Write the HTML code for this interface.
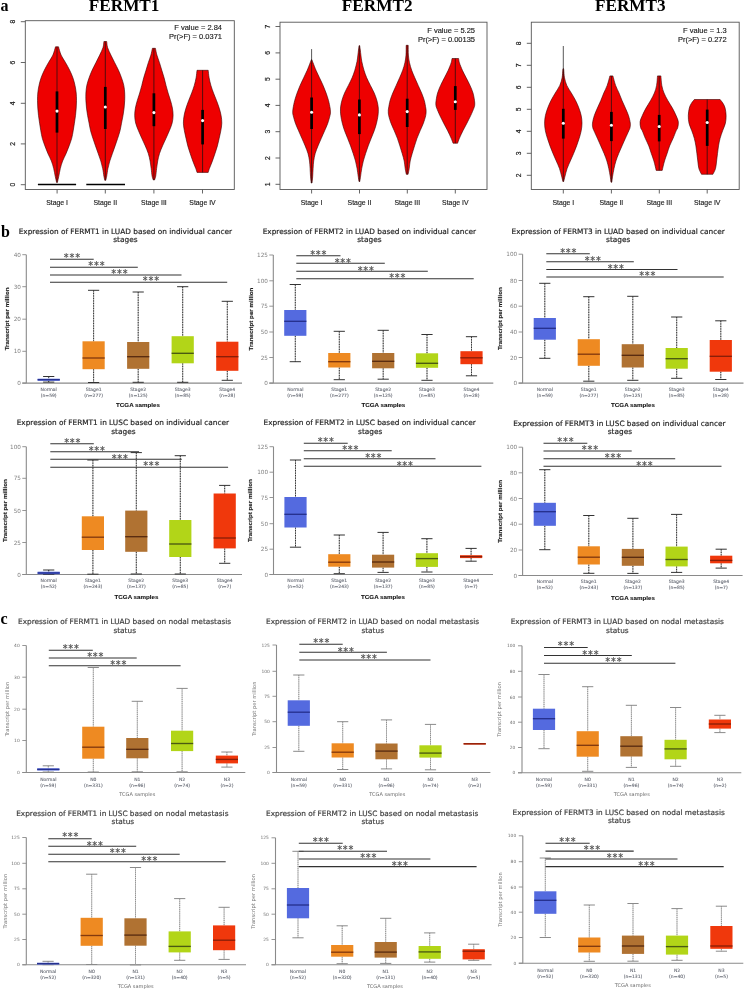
<!DOCTYPE html>
<html><head><meta charset="utf-8"><title>FERMT expression figure</title>
<style>
html,body{margin:0;padding:0;background:#fff;}
body{width:744px;height:991px;overflow:hidden;}
svg{display:block;}
text{font-kerning:normal;}
</style></head>
<body>
<svg width="744" height="991" viewBox="0 0 744 991">
<rect width="744" height="991" fill="#fff"/>
<rect x="25.3" y="20.7" width="209" height="168.8" fill="none" stroke="#555" stroke-width="0.9"/>
<line x1="20.8" y1="184.7" x2="25.3" y2="184.7" stroke="#555" stroke-width="0.9"/>
<text x="15.1" y="184.7" font-family="'Liberation Sans', sans-serif" font-size="6.8" font-weight="400" fill="#222" text-anchor="middle" transform="rotate(-90 15.1 184.7)" stroke="#222" stroke-width="0.2">0</text>
<line x1="20.8" y1="143.9" x2="25.3" y2="143.9" stroke="#555" stroke-width="0.9"/>
<text x="15.1" y="143.9" font-family="'Liberation Sans', sans-serif" font-size="6.8" font-weight="400" fill="#222" text-anchor="middle" transform="rotate(-90 15.1 143.9)" stroke="#222" stroke-width="0.2">2</text>
<line x1="20.8" y1="103.3" x2="25.3" y2="103.3" stroke="#555" stroke-width="0.9"/>
<text x="15.1" y="103.3" font-family="'Liberation Sans', sans-serif" font-size="6.8" font-weight="400" fill="#222" text-anchor="middle" transform="rotate(-90 15.1 103.3)" stroke="#222" stroke-width="0.2">4</text>
<line x1="20.8" y1="62.5" x2="25.3" y2="62.5" stroke="#555" stroke-width="0.9"/>
<text x="15.1" y="62.5" font-family="'Liberation Sans', sans-serif" font-size="6.8" font-weight="400" fill="#222" text-anchor="middle" transform="rotate(-90 15.1 62.5)" stroke="#222" stroke-width="0.2">6</text>
<line x1="20.8" y1="21.7" x2="25.3" y2="21.7" stroke="#555" stroke-width="0.9"/>
<text x="15.1" y="21.7" font-family="'Liberation Sans', sans-serif" font-size="6.8" font-weight="400" fill="#222" text-anchor="middle" transform="rotate(-90 15.1 21.7)" stroke="#222" stroke-width="0.2">8</text>
<line x1="57.1" y1="189.5" x2="57.1" y2="193.5" stroke="#555" stroke-width="0.9"/>
<text x="57.1" y="205.2" font-family="'Liberation Sans', sans-serif" font-size="6.9" font-weight="400" fill="#222" text-anchor="middle" stroke="#222" stroke-width="0.15">Stage I</text>
<line x1="105.3" y1="189.5" x2="105.3" y2="193.5" stroke="#555" stroke-width="0.9"/>
<text x="105.3" y="205.2" font-family="'Liberation Sans', sans-serif" font-size="6.9" font-weight="400" fill="#222" text-anchor="middle" stroke="#222" stroke-width="0.15">Stage II</text>
<line x1="153.9" y1="189.5" x2="153.9" y2="193.5" stroke="#555" stroke-width="0.9"/>
<text x="153.9" y="205.2" font-family="'Liberation Sans', sans-serif" font-size="6.9" font-weight="400" fill="#222" text-anchor="middle" stroke="#222" stroke-width="0.15">Stage III</text>
<line x1="202.5" y1="189.5" x2="202.5" y2="193.5" stroke="#555" stroke-width="0.9"/>
<text x="202.5" y="205.2" font-family="'Liberation Sans', sans-serif" font-size="6.9" font-weight="400" fill="#222" text-anchor="middle" stroke="#222" stroke-width="0.15">Stage IV</text>
<text x="222" y="29.7" font-family="'Liberation Sans', sans-serif" font-size="7.5" font-weight="400" fill="#222" text-anchor="end" stroke="#222" stroke-width="0.15">F value = 2.84</text>
<text x="222" y="38.7" font-family="'Liberation Sans', sans-serif" font-size="7.5" font-weight="400" fill="#222" text-anchor="end" stroke="#222" stroke-width="0.15">Pr(&gt;F) = 0.0371</text>
<text x="124.1" y="11.1" font-family="'Liberation Serif', serif" font-size="17.2" font-weight="700" fill="#000" text-anchor="middle">FERMT1</text>
<line x1="37.9" y1="184.5" x2="76.1" y2="184.5" stroke="#000" stroke-width="1.5"/>
<line x1="86.3" y1="184.5" x2="125" y2="184.5" stroke="#000" stroke-width="1.5"/>
<path d="M58.5,46.8 C58.93,48.18 59.92,52.45 61.1,55.1 C62.28,57.75 64.17,60.17 65.6,62.7 C67.03,65.23 68.48,67.78 69.7,70.3 C70.92,72.82 72.02,75.28 72.9,77.8 C73.78,80.32 74.45,82.87 75,85.4 C75.55,87.93 75.95,90.48 76.2,93 C76.45,95.52 76.5,97.98 76.5,100.5 C76.5,103.02 76.37,105.58 76.2,108.1 C76.03,110.62 75.8,113.08 75.5,115.6 C75.2,118.12 74.78,120.67 74.4,123.2 C74.02,125.73 73.65,128.28 73.2,130.8 C72.75,133.32 72.38,135.78 71.7,138.3 C71.02,140.82 70.03,143.37 69.1,145.9 C68.17,148.43 67.18,150.98 66.1,153.5 C65.02,156.02 63.57,158.48 62.6,161 C61.63,163.52 60.93,166.07 60.3,168.6 C59.67,171.13 59.28,173.9 58.8,176.2 C58.32,178.5 57.63,181.37 57.4,182.4 L56.6,182.4 C56.37,181.37 55.68,178.5 55.2,176.2 C54.72,173.9 54.33,171.13 53.7,168.6 C53.07,166.07 52.37,163.52 51.4,161 C50.43,158.48 48.98,156.02 47.9,153.5 C46.82,150.98 45.83,148.43 44.9,145.9 C43.97,143.37 42.98,140.82 42.3,138.3 C41.62,135.78 41.25,133.32 40.8,130.8 C40.35,128.28 39.98,125.73 39.6,123.2 C39.22,120.67 38.8,118.12 38.5,115.6 C38.2,113.08 37.97,110.62 37.8,108.1 C37.63,105.58 37.5,103.02 37.5,100.5 C37.5,97.98 37.55,95.52 37.8,93 C38.05,90.48 38.45,87.93 39,85.4 C39.55,82.87 40.22,80.32 41.1,77.8 C41.98,75.28 43.08,72.82 44.3,70.3 C45.52,67.78 46.97,65.23 48.4,62.7 C49.83,60.17 51.72,57.75 52.9,55.1 C54.08,52.45 55.07,48.18 55.5,46.8 Z" fill="#ee0000" stroke="#3a0000" stroke-width="0.6"/>
<line x1="57" y1="46.8" x2="57" y2="182.4" stroke="#111" stroke-width="0.7"/>
<rect x="55.65" y="91.4" width="2.7" height="41.2" fill="#000"/>
<circle cx="57" cy="111.1" r="1.55" fill="#fff"/>
<path d="M106.7,41.5 C106.85,42.52 106.9,45.33 107.6,47.6 C108.3,49.87 109.72,52.58 110.9,55.1 C112.08,57.62 113.43,60.17 114.7,62.7 C115.97,65.23 117.37,67.78 118.5,70.3 C119.63,72.82 120.62,75.28 121.5,77.8 C122.38,80.32 123.27,82.87 123.8,85.4 C124.33,87.93 124.55,90.48 124.7,93 C124.85,95.52 124.8,97.98 124.7,100.5 C124.6,103.02 124.38,105.58 124.1,108.1 C123.82,110.62 123.43,113.08 123,115.6 C122.57,118.12 122,120.67 121.5,123.2 C121,125.73 120.63,128.28 120,130.8 C119.37,133.32 118.52,135.78 117.7,138.3 C116.88,140.82 115.98,143.37 115.1,145.9 C114.22,148.43 113.28,150.98 112.4,153.5 C111.52,156.02 110.55,158.48 109.8,161 C109.05,163.52 108.42,166.07 107.9,168.6 C107.38,171.13 107.05,174.25 106.7,176.2 C106.35,178.15 105.95,179.62 105.8,180.3 L104.8,180.3 C104.65,179.62 104.25,178.15 103.9,176.2 C103.55,174.25 103.22,171.13 102.7,168.6 C102.18,166.07 101.55,163.52 100.8,161 C100.05,158.48 99.08,156.02 98.2,153.5 C97.32,150.98 96.38,148.43 95.5,145.9 C94.62,143.37 93.72,140.82 92.9,138.3 C92.08,135.78 91.23,133.32 90.6,130.8 C89.97,128.28 89.6,125.73 89.1,123.2 C88.6,120.67 88.03,118.12 87.6,115.6 C87.17,113.08 86.78,110.62 86.5,108.1 C86.22,105.58 86,103.02 85.9,100.5 C85.8,97.98 85.75,95.52 85.9,93 C86.05,90.48 86.27,87.93 86.8,85.4 C87.33,82.87 88.22,80.32 89.1,77.8 C89.98,75.28 90.97,72.82 92.1,70.3 C93.23,67.78 94.63,65.23 95.9,62.7 C97.17,60.17 98.52,57.62 99.7,55.1 C100.88,52.58 102.3,49.87 103,47.6 C103.7,45.33 103.75,42.52 103.9,41.5 Z" fill="#ee0000" stroke="#3a0000" stroke-width="0.6"/>
<line x1="105.3" y1="41.5" x2="105.3" y2="180.3" stroke="#111" stroke-width="0.7"/>
<rect x="103.95" y="86.9" width="2.7" height="42.1" fill="#000"/>
<circle cx="105.3" cy="107" r="1.55" fill="#fff"/>
<path d="M155.4,48.3 C155.65,49.43 156.22,52.7 156.9,55.1 C157.58,57.5 158.68,60.17 159.5,62.7 C160.32,65.23 161.03,67.78 161.8,70.3 C162.57,72.82 163.4,75.28 164.1,77.8 C164.8,80.32 165.33,82.87 166,85.4 C166.67,87.93 167.35,90.48 168.1,93 C168.85,95.52 169.78,97.98 170.5,100.5 C171.22,103.02 171.97,105.58 172.4,108.1 C172.83,110.62 173.15,113.08 173.1,115.6 C173.05,118.12 172.73,120.67 172.1,123.2 C171.47,125.73 170.32,128.28 169.3,130.8 C168.28,133.32 167.13,135.78 166,138.3 C164.87,140.82 163.58,143.37 162.5,145.9 C161.42,148.43 160.3,150.98 159.5,153.5 C158.7,156.02 158.18,158.48 157.7,161 C157.22,163.52 156.93,166.07 156.6,168.6 C156.27,171.13 156.05,174.3 155.7,176.2 C155.35,178.1 154.7,179.37 154.5,180 L153.3,180 C153.1,179.37 152.45,178.1 152.1,176.2 C151.75,174.3 151.53,171.13 151.2,168.6 C150.87,166.07 150.58,163.52 150.1,161 C149.62,158.48 149.1,156.02 148.3,153.5 C147.5,150.98 146.38,148.43 145.3,145.9 C144.22,143.37 142.93,140.82 141.8,138.3 C140.67,135.78 139.52,133.32 138.5,130.8 C137.48,128.28 136.33,125.73 135.7,123.2 C135.07,120.67 134.75,118.12 134.7,115.6 C134.65,113.08 134.97,110.62 135.4,108.1 C135.83,105.58 136.58,103.02 137.3,100.5 C138.02,97.98 138.95,95.52 139.7,93 C140.45,90.48 141.13,87.93 141.8,85.4 C142.47,82.87 143,80.32 143.7,77.8 C144.4,75.28 145.23,72.82 146,70.3 C146.77,67.78 147.48,65.23 148.3,62.7 C149.12,60.17 150.22,57.5 150.9,55.1 C151.58,52.7 152.15,49.43 152.4,48.3 Z" fill="#ee0000" stroke="#3a0000" stroke-width="0.6"/>
<line x1="153.9" y1="48.3" x2="153.9" y2="180" stroke="#111" stroke-width="0.7"/>
<rect x="152.55" y="93.3" width="2.7" height="32.9" fill="#000"/>
<circle cx="153.9" cy="112.6" r="1.55" fill="#fff"/>
<path d="M208.2,70.3 C208.35,71.55 208.65,75.28 209.1,77.8 C209.55,80.32 210.17,82.87 210.9,85.4 C211.63,87.93 212.57,90.48 213.5,93 C214.43,95.52 215.55,97.98 216.5,100.5 C217.45,103.02 218.43,105.58 219.2,108.1 C219.97,110.62 220.67,113.08 221.1,115.6 C221.53,118.12 221.85,120.67 221.8,123.2 C221.75,125.73 221.23,128.28 220.8,130.8 C220.37,133.32 219.77,135.78 219.2,138.3 C218.63,140.82 218.1,143.37 217.4,145.9 C216.7,148.43 215.83,150.98 215,153.5 C214.17,156.02 213.33,158.48 212.4,161 C211.47,163.52 210.1,166.7 209.4,168.6 C208.7,170.5 208.4,171.77 208.2,172.4 L197,172.4 C196.8,171.77 196.5,170.5 195.8,168.6 C195.1,166.7 193.73,163.52 192.8,161 C191.87,158.48 191.03,156.02 190.2,153.5 C189.37,150.98 188.5,148.43 187.8,145.9 C187.1,143.37 186.57,140.82 186,138.3 C185.43,135.78 184.83,133.32 184.4,130.8 C183.97,128.28 183.45,125.73 183.4,123.2 C183.35,120.67 183.67,118.12 184.1,115.6 C184.53,113.08 185.23,110.62 186,108.1 C186.77,105.58 187.75,103.02 188.7,100.5 C189.65,97.98 190.77,95.52 191.7,93 C192.63,90.48 193.57,87.93 194.3,85.4 C195.03,82.87 195.65,80.32 196.1,77.8 C196.55,75.28 196.85,71.55 197,70.3 Z" fill="#ee0000" stroke="#3a0000" stroke-width="0.6"/>
<line x1="202.6" y1="70.3" x2="202.6" y2="172.4" stroke="#111" stroke-width="0.7"/>
<rect x="201.25" y="109.9" width="2.7" height="34.5" fill="#000"/>
<circle cx="202.6" cy="120.6" r="1.55" fill="#fff"/>
<rect x="280" y="22.2" width="207" height="167.3" fill="none" stroke="#555" stroke-width="0.9"/>
<line x1="275.5" y1="184.3" x2="280" y2="184.3" stroke="#555" stroke-width="0.9"/>
<text x="269.8" y="184.3" font-family="'Liberation Sans', sans-serif" font-size="6.8" font-weight="400" fill="#222" text-anchor="middle" transform="rotate(-90 269.8 184.3)" stroke="#222" stroke-width="0.2">1</text>
<line x1="275.5" y1="158" x2="280" y2="158" stroke="#555" stroke-width="0.9"/>
<text x="269.8" y="158" font-family="'Liberation Sans', sans-serif" font-size="6.8" font-weight="400" fill="#222" text-anchor="middle" transform="rotate(-90 269.8 158)" stroke="#222" stroke-width="0.2">2</text>
<line x1="275.5" y1="131.7" x2="280" y2="131.7" stroke="#555" stroke-width="0.9"/>
<text x="269.8" y="131.7" font-family="'Liberation Sans', sans-serif" font-size="6.8" font-weight="400" fill="#222" text-anchor="middle" transform="rotate(-90 269.8 131.7)" stroke="#222" stroke-width="0.2">3</text>
<line x1="275.5" y1="105.4" x2="280" y2="105.4" stroke="#555" stroke-width="0.9"/>
<text x="269.8" y="105.4" font-family="'Liberation Sans', sans-serif" font-size="6.8" font-weight="400" fill="#222" text-anchor="middle" transform="rotate(-90 269.8 105.4)" stroke="#222" stroke-width="0.2">4</text>
<line x1="275.5" y1="79.2" x2="280" y2="79.2" stroke="#555" stroke-width="0.9"/>
<text x="269.8" y="79.2" font-family="'Liberation Sans', sans-serif" font-size="6.8" font-weight="400" fill="#222" text-anchor="middle" transform="rotate(-90 269.8 79.2)" stroke="#222" stroke-width="0.2">5</text>
<line x1="275.5" y1="52.9" x2="280" y2="52.9" stroke="#555" stroke-width="0.9"/>
<text x="269.8" y="52.9" font-family="'Liberation Sans', sans-serif" font-size="6.8" font-weight="400" fill="#222" text-anchor="middle" transform="rotate(-90 269.8 52.9)" stroke="#222" stroke-width="0.2">6</text>
<line x1="275.5" y1="26.5" x2="280" y2="26.5" stroke="#555" stroke-width="0.9"/>
<text x="269.8" y="26.5" font-family="'Liberation Sans', sans-serif" font-size="6.8" font-weight="400" fill="#222" text-anchor="middle" transform="rotate(-90 269.8 26.5)" stroke="#222" stroke-width="0.2">7</text>
<line x1="311.6" y1="189.5" x2="311.6" y2="193.5" stroke="#555" stroke-width="0.9"/>
<text x="311.6" y="205.2" font-family="'Liberation Sans', sans-serif" font-size="6.9" font-weight="400" fill="#222" text-anchor="middle" stroke="#222" stroke-width="0.15">Stage I</text>
<line x1="359.5" y1="189.5" x2="359.5" y2="193.5" stroke="#555" stroke-width="0.9"/>
<text x="359.5" y="205.2" font-family="'Liberation Sans', sans-serif" font-size="6.9" font-weight="400" fill="#222" text-anchor="middle" stroke="#222" stroke-width="0.15">Stage II</text>
<line x1="407.3" y1="189.5" x2="407.3" y2="193.5" stroke="#555" stroke-width="0.9"/>
<text x="407.3" y="205.2" font-family="'Liberation Sans', sans-serif" font-size="6.9" font-weight="400" fill="#222" text-anchor="middle" stroke="#222" stroke-width="0.15">Stage III</text>
<line x1="455.3" y1="189.5" x2="455.3" y2="193.5" stroke="#555" stroke-width="0.9"/>
<text x="455.3" y="205.2" font-family="'Liberation Sans', sans-serif" font-size="6.9" font-weight="400" fill="#222" text-anchor="middle" stroke="#222" stroke-width="0.15">Stage IV</text>
<text x="475" y="32.5" font-family="'Liberation Sans', sans-serif" font-size="7.5" font-weight="400" fill="#222" text-anchor="end" stroke="#222" stroke-width="0.15">F value = 5.25</text>
<text x="475" y="41.7" font-family="'Liberation Sans', sans-serif" font-size="7.5" font-weight="400" fill="#222" text-anchor="end" stroke="#222" stroke-width="0.15">Pr(&gt;F) = 0.00135</text>
<text x="377.2" y="11.1" font-family="'Liberation Serif', serif" font-size="17.2" font-weight="700" fill="#000" text-anchor="middle">FERMT2</text>
<path d="M311.9,59.7 C312.08,60.2 312.32,60.93 313,62.7 C313.68,64.47 314.92,67.78 316,70.3 C317.08,72.82 318.32,75.28 319.5,77.8 C320.68,80.32 322,82.87 323.1,85.4 C324.2,87.93 325.2,90.48 326.1,93 C327,95.52 327.83,97.98 328.5,100.5 C329.17,103.02 329.77,106.08 330.1,108.1 C330.43,110.12 330.52,111.35 330.5,112.6 C330.48,113.85 330.45,113.83 330,115.6 C329.55,117.37 328.7,120.67 327.8,123.2 C326.9,125.73 325.68,128.28 324.6,130.8 C323.52,133.32 322.4,135.78 321.3,138.3 C320.2,140.82 319.02,143.37 318,145.9 C316.98,148.43 315.92,150.98 315.2,153.5 C314.48,156.02 314.05,158.48 313.7,161 C313.35,163.52 313.27,166.07 313.1,168.6 C312.93,171.13 312.88,173.8 312.7,176.2 C312.52,178.6 312.12,181.87 312,183 L311.2,183 C311.08,181.87 310.68,178.6 310.5,176.2 C310.32,173.8 310.27,171.13 310.1,168.6 C309.93,166.07 309.85,163.52 309.5,161 C309.15,158.48 308.72,156.02 308,153.5 C307.28,150.98 306.22,148.43 305.2,145.9 C304.18,143.37 303,140.82 301.9,138.3 C300.8,135.78 299.68,133.32 298.6,130.8 C297.52,128.28 296.3,125.73 295.4,123.2 C294.5,120.67 293.65,117.37 293.2,115.6 C292.75,113.83 292.72,113.85 292.7,112.6 C292.68,111.35 292.77,110.12 293.1,108.1 C293.43,106.08 294.03,103.02 294.7,100.5 C295.37,97.98 296.2,95.52 297.1,93 C298,90.48 299,87.93 300.1,85.4 C301.2,82.87 302.52,80.32 303.7,77.8 C304.88,75.28 306.12,72.82 307.2,70.3 C308.28,67.78 309.52,64.47 310.2,62.7 C310.88,60.93 311.12,60.2 311.3,59.7 Z" fill="#ee0000" stroke="#3a0000" stroke-width="0.6"/>
<line x1="311.6" y1="49.1" x2="311.6" y2="183" stroke="#111" stroke-width="0.7"/>
<rect x="310.25" y="97.5" width="2.7" height="31.5" fill="#000"/>
<circle cx="311.6" cy="112.3" r="1.55" fill="#fff"/>
<path d="M359.7,45.6 C359.8,46.33 360.1,48.42 360.3,50 C360.5,51.58 360.65,53.18 360.9,55.1 C361.15,57.02 361.28,58.97 361.8,61.5 C362.32,64.03 363.18,67.58 364,70.3 C364.82,73.02 365.63,75.28 366.7,77.8 C367.77,80.32 369.15,82.87 370.4,85.4 C371.65,87.93 373.12,90.48 374.2,93 C375.28,95.52 376.22,97.98 376.9,100.5 C377.58,103.02 378.12,105.58 378.3,108.1 C378.48,110.62 378.3,113.08 378,115.6 C377.7,118.12 377.13,120.67 376.5,123.2 C375.87,125.73 375.08,128.28 374.2,130.8 C373.32,133.32 372.2,135.78 371.2,138.3 C370.2,140.82 369.13,143.37 368.2,145.9 C367.27,148.43 366.42,150.98 365.6,153.5 C364.78,156.02 363.95,158.48 363.3,161 C362.65,163.52 362.15,166.07 361.7,168.6 C361.25,171.13 360.92,174.05 360.6,176.2 C360.28,178.35 359.93,180.62 359.8,181.5 L359,181.5 C358.87,180.62 358.52,178.35 358.2,176.2 C357.88,174.05 357.55,171.13 357.1,168.6 C356.65,166.07 356.15,163.52 355.5,161 C354.85,158.48 354.02,156.02 353.2,153.5 C352.38,150.98 351.53,148.43 350.6,145.9 C349.67,143.37 348.6,140.82 347.6,138.3 C346.6,135.78 345.48,133.32 344.6,130.8 C343.72,128.28 342.93,125.73 342.3,123.2 C341.67,120.67 341.1,118.12 340.8,115.6 C340.5,113.08 340.32,110.62 340.5,108.1 C340.68,105.58 341.22,103.02 341.9,100.5 C342.58,97.98 343.52,95.52 344.6,93 C345.68,90.48 347.15,87.93 348.4,85.4 C349.65,82.87 351.03,80.32 352.1,77.8 C353.17,75.28 353.98,73.02 354.8,70.3 C355.62,67.58 356.48,64.03 357,61.5 C357.52,58.97 357.65,57.02 357.9,55.1 C358.15,53.18 358.3,51.58 358.5,50 C358.7,48.42 359,46.33 359.1,45.6 Z" fill="#ee0000" stroke="#3a0000" stroke-width="0.6"/>
<line x1="359.4" y1="46" x2="359.4" y2="181.5" stroke="#111" stroke-width="0.7"/>
<rect x="358.05" y="99.5" width="2.7" height="34.6" fill="#000"/>
<circle cx="359.4" cy="114.9" r="1.55" fill="#fff"/>
<path d="M408.2,45.3 C408.23,46.93 408.18,52.2 408.4,55.1 C408.62,58 408.95,60.17 409.5,62.7 C410.05,65.23 410.82,67.78 411.7,70.3 C412.58,72.82 413.72,75.28 414.8,77.8 C415.88,80.32 417.07,82.87 418.2,85.4 C419.33,87.93 420.58,90.48 421.6,93 C422.62,95.52 423.6,97.98 424.3,100.5 C425,103.02 425.5,106.33 425.8,108.1 C426.1,109.87 426.12,109.85 426.1,111.1 C426.08,112.35 426.15,113.58 425.7,115.6 C425.25,117.62 424.33,120.67 423.4,123.2 C422.47,125.73 421.17,128.28 420.1,130.8 C419.03,133.32 417.93,135.78 417,138.3 C416.07,140.82 415.3,143.37 414.5,145.9 C413.7,148.43 412.92,150.98 412.2,153.5 C411.48,156.02 410.7,158.48 410.2,161 C409.7,163.52 409.55,166.38 409.2,168.6 C408.85,170.82 408.28,173.35 408.1,174.3 L406.3,174.3 C406.12,173.35 405.55,170.82 405.2,168.6 C404.85,166.38 404.7,163.52 404.2,161 C403.7,158.48 402.92,156.02 402.2,153.5 C401.48,150.98 400.7,148.43 399.9,145.9 C399.1,143.37 398.33,140.82 397.4,138.3 C396.47,135.78 395.37,133.32 394.3,130.8 C393.23,128.28 391.93,125.73 391,123.2 C390.07,120.67 389.15,117.62 388.7,115.6 C388.25,113.58 388.32,112.35 388.3,111.1 C388.28,109.85 388.3,109.87 388.6,108.1 C388.9,106.33 389.4,103.02 390.1,100.5 C390.8,97.98 391.78,95.52 392.8,93 C393.82,90.48 395.07,87.93 396.2,85.4 C397.33,82.87 398.52,80.32 399.6,77.8 C400.68,75.28 401.82,72.82 402.7,70.3 C403.58,67.78 404.35,65.23 404.9,62.7 C405.45,60.17 405.78,58 406,55.1 C406.22,52.2 406.17,46.93 406.2,45.3 Z" fill="#ee0000" stroke="#3a0000" stroke-width="0.6"/>
<line x1="407.2" y1="45.3" x2="407.2" y2="174.3" stroke="#111" stroke-width="0.7"/>
<rect x="405.85" y="98.7" width="2.7" height="28.3" fill="#000"/>
<circle cx="407.2" cy="111.6" r="1.55" fill="#fff"/>
<path d="M458.6,58.5 C458.73,59.2 458.77,60.73 459.4,62.7 C460.03,64.67 461.27,67.78 462.4,70.3 C463.53,72.82 464.93,75.28 466.2,77.8 C467.47,80.32 468.87,82.87 470,85.4 C471.13,87.93 472.25,90.48 473,93 C473.75,95.52 474.22,98.5 474.5,100.5 C474.78,102.5 474.8,103.73 474.7,105 C474.6,106.27 474.57,106.33 473.9,108.1 C473.23,109.87 471.87,113.08 470.7,115.6 C469.53,118.12 468.2,120.67 466.9,123.2 C465.6,125.73 464.15,128.28 462.9,130.8 C461.65,133.32 460.28,136.23 459.4,138.3 C458.52,140.37 457.9,142.38 457.6,143.2 L453,143.2 C452.7,142.38 452.08,140.37 451.2,138.3 C450.32,136.23 448.95,133.32 447.7,130.8 C446.45,128.28 445,125.73 443.7,123.2 C442.4,120.67 441.07,118.12 439.9,115.6 C438.73,113.08 437.37,109.87 436.7,108.1 C436.03,106.33 436,106.27 435.9,105 C435.8,103.73 435.82,102.5 436.1,100.5 C436.38,98.5 436.85,95.52 437.6,93 C438.35,90.48 439.47,87.93 440.6,85.4 C441.73,82.87 443.13,80.32 444.4,77.8 C445.67,75.28 447.07,72.82 448.2,70.3 C449.33,67.78 450.57,64.67 451.2,62.7 C451.83,60.73 451.87,59.2 452,58.5 Z" fill="#ee0000" stroke="#3a0000" stroke-width="0.6"/>
<line x1="455.3" y1="58.5" x2="455.3" y2="143.2" stroke="#111" stroke-width="0.7"/>
<rect x="453.95" y="86.1" width="2.7" height="23.8" fill="#000"/>
<circle cx="455.3" cy="101.7" r="1.55" fill="#fff"/>
<rect x="531.3" y="22.2" width="207.9" height="167.3" fill="none" stroke="#555" stroke-width="0.9"/>
<line x1="526.8" y1="175.3" x2="531.3" y2="175.3" stroke="#555" stroke-width="0.9"/>
<text x="521.1" y="175.3" font-family="'Liberation Sans', sans-serif" font-size="6.8" font-weight="400" fill="#222" text-anchor="middle" transform="rotate(-90 521.1 175.3)" stroke="#222" stroke-width="0.2">2</text>
<line x1="526.8" y1="153.3" x2="531.3" y2="153.3" stroke="#555" stroke-width="0.9"/>
<text x="521.1" y="153.3" font-family="'Liberation Sans', sans-serif" font-size="6.8" font-weight="400" fill="#222" text-anchor="middle" transform="rotate(-90 521.1 153.3)" stroke="#222" stroke-width="0.2">3</text>
<line x1="526.8" y1="131.3" x2="531.3" y2="131.3" stroke="#555" stroke-width="0.9"/>
<text x="521.1" y="131.3" font-family="'Liberation Sans', sans-serif" font-size="6.8" font-weight="400" fill="#222" text-anchor="middle" transform="rotate(-90 521.1 131.3)" stroke="#222" stroke-width="0.2">4</text>
<line x1="526.8" y1="109.3" x2="531.3" y2="109.3" stroke="#555" stroke-width="0.9"/>
<text x="521.1" y="109.3" font-family="'Liberation Sans', sans-serif" font-size="6.8" font-weight="400" fill="#222" text-anchor="middle" transform="rotate(-90 521.1 109.3)" stroke="#222" stroke-width="0.2">5</text>
<line x1="526.8" y1="87.3" x2="531.3" y2="87.3" stroke="#555" stroke-width="0.9"/>
<text x="521.1" y="87.3" font-family="'Liberation Sans', sans-serif" font-size="6.8" font-weight="400" fill="#222" text-anchor="middle" transform="rotate(-90 521.1 87.3)" stroke="#222" stroke-width="0.2">6</text>
<line x1="526.8" y1="65.3" x2="531.3" y2="65.3" stroke="#555" stroke-width="0.9"/>
<text x="521.1" y="65.3" font-family="'Liberation Sans', sans-serif" font-size="6.8" font-weight="400" fill="#222" text-anchor="middle" transform="rotate(-90 521.1 65.3)" stroke="#222" stroke-width="0.2">7</text>
<line x1="526.8" y1="43.3" x2="531.3" y2="43.3" stroke="#555" stroke-width="0.9"/>
<text x="521.1" y="43.3" font-family="'Liberation Sans', sans-serif" font-size="6.8" font-weight="400" fill="#222" text-anchor="middle" transform="rotate(-90 521.1 43.3)" stroke="#222" stroke-width="0.2">8</text>
<line x1="563.3" y1="189.5" x2="563.3" y2="193.5" stroke="#555" stroke-width="0.9"/>
<text x="563.3" y="205.2" font-family="'Liberation Sans', sans-serif" font-size="6.9" font-weight="400" fill="#222" text-anchor="middle" stroke="#222" stroke-width="0.15">Stage I</text>
<line x1="611.4" y1="189.5" x2="611.4" y2="193.5" stroke="#555" stroke-width="0.9"/>
<text x="611.4" y="205.2" font-family="'Liberation Sans', sans-serif" font-size="6.9" font-weight="400" fill="#222" text-anchor="middle" stroke="#222" stroke-width="0.15">Stage II</text>
<line x1="659.3" y1="189.5" x2="659.3" y2="193.5" stroke="#555" stroke-width="0.9"/>
<text x="659.3" y="205.2" font-family="'Liberation Sans', sans-serif" font-size="6.9" font-weight="400" fill="#222" text-anchor="middle" stroke="#222" stroke-width="0.15">Stage III</text>
<line x1="707.2" y1="189.5" x2="707.2" y2="193.5" stroke="#555" stroke-width="0.9"/>
<text x="707.2" y="205.2" font-family="'Liberation Sans', sans-serif" font-size="6.9" font-weight="400" fill="#222" text-anchor="middle" stroke="#222" stroke-width="0.15">Stage IV</text>
<text x="726.7" y="32.5" font-family="'Liberation Sans', sans-serif" font-size="7.5" font-weight="400" fill="#222" text-anchor="end" stroke="#222" stroke-width="0.15">F value = 1.3</text>
<text x="726.7" y="42" font-family="'Liberation Sans', sans-serif" font-size="7.5" font-weight="400" fill="#222" text-anchor="end" stroke="#222" stroke-width="0.15">Pr(&gt;F) = 0.272</text>
<text x="630.3" y="11.1" font-family="'Liberation Serif', serif" font-size="17.2" font-weight="700" fill="#000" text-anchor="middle">FERMT3</text>
<path d="M563.6,68.7 C563.63,68.97 563.65,68.78 563.8,70.3 C563.95,71.82 564,75.28 564.5,77.8 C565,80.32 565.67,82.87 566.8,85.4 C567.93,87.93 569.83,90.48 571.3,93 C572.77,95.52 574.33,97.98 575.6,100.5 C576.87,103.02 577.97,105.58 578.9,108.1 C579.83,110.62 580.68,113.08 581.2,115.6 C581.72,118.12 582,120.67 582,123.2 C582,125.73 581.67,128.28 581.2,130.8 C580.73,133.32 579.97,135.78 579.2,138.3 C578.43,140.82 577.53,143.37 576.6,145.9 C575.67,148.43 574.65,150.98 573.6,153.5 C572.55,156.02 571.38,158.48 570.3,161 C569.22,163.52 567.98,166.07 567.1,168.6 C566.22,171.13 565.57,174.05 565,176.2 C564.43,178.35 563.92,180.62 563.7,181.5 L562.9,181.5 C562.68,180.62 562.17,178.35 561.6,176.2 C561.03,174.05 560.38,171.13 559.5,168.6 C558.62,166.07 557.38,163.52 556.3,161 C555.22,158.48 554.05,156.02 553,153.5 C551.95,150.98 550.93,148.43 550,145.9 C549.07,143.37 548.17,140.82 547.4,138.3 C546.63,135.78 545.87,133.32 545.4,130.8 C544.93,128.28 544.6,125.73 544.6,123.2 C544.6,120.67 544.88,118.12 545.4,115.6 C545.92,113.08 546.77,110.62 547.7,108.1 C548.63,105.58 549.73,103.02 551,100.5 C552.27,97.98 553.83,95.52 555.3,93 C556.77,90.48 558.67,87.93 559.8,85.4 C560.93,82.87 561.6,80.32 562.1,77.8 C562.6,75.28 562.65,71.82 562.8,70.3 C562.95,68.78 562.97,68.97 563,68.7 Z" fill="#ee0000" stroke="#3a0000" stroke-width="0.6"/>
<line x1="563.3" y1="46" x2="563.3" y2="181.5" stroke="#111" stroke-width="0.7"/>
<rect x="561.95" y="108.8" width="2.7" height="29.8" fill="#000"/>
<circle cx="563.3" cy="123.2" r="1.55" fill="#fff"/>
<path d="M612.9,75.9 C613.35,77.48 614.58,82.55 615.6,85.4 C616.62,88.25 617.93,90.48 619,93 C620.07,95.52 620.93,97.98 622,100.5 C623.07,103.02 624.32,105.58 625.4,108.1 C626.48,110.62 627.68,113.08 628.5,115.6 C629.32,118.12 630.05,121.18 630.3,123.2 C630.55,125.22 630.25,126.43 630,127.7 C629.75,128.97 629.57,129.03 628.8,130.8 C628.03,132.57 626.53,135.78 625.4,138.3 C624.27,140.82 623.12,143.37 622,145.9 C620.88,148.43 619.72,150.98 618.7,153.5 C617.68,156.02 616.68,158.48 615.9,161 C615.12,163.52 614.55,166.07 614,168.6 C613.45,171.13 612.97,173.93 612.6,176.2 C612.23,178.47 611.93,181.2 611.8,182.2 L611,182.2 C610.87,181.2 610.57,178.47 610.2,176.2 C609.83,173.93 609.35,171.13 608.8,168.6 C608.25,166.07 607.68,163.52 606.9,161 C606.12,158.48 605.12,156.02 604.1,153.5 C603.08,150.98 601.92,148.43 600.8,145.9 C599.68,143.37 598.53,140.82 597.4,138.3 C596.27,135.78 594.77,132.57 594,130.8 C593.23,129.03 593.05,128.97 592.8,127.7 C592.55,126.43 592.25,125.22 592.5,123.2 C592.75,121.18 593.48,118.12 594.3,115.6 C595.12,113.08 596.32,110.62 597.4,108.1 C598.48,105.58 599.73,103.02 600.8,100.5 C601.87,97.98 602.73,95.52 603.8,93 C604.87,90.48 606.18,88.25 607.2,85.4 C608.22,82.55 609.45,77.48 609.9,75.9 Z" fill="#ee0000" stroke="#3a0000" stroke-width="0.6"/>
<line x1="611.4" y1="75.9" x2="611.4" y2="182.2" stroke="#111" stroke-width="0.7"/>
<rect x="610.05" y="111.9" width="2.7" height="29.2" fill="#000"/>
<circle cx="611.4" cy="125.2" r="1.55" fill="#fff"/>
<path d="M660.9,75.9 C661.05,77.48 661.28,82.55 661.8,85.4 C662.32,88.25 663,90.48 664,93 C665,95.52 666.4,97.98 667.8,100.5 C669.2,103.02 671.02,105.58 672.4,108.1 C673.78,110.62 675.12,113.33 676.1,115.6 C677.08,117.87 678.03,119.68 678.3,121.7 C678.57,123.72 678.07,126.18 677.7,127.7 C677.33,129.22 676.87,129.03 676.1,130.8 C675.33,132.57 674.18,135.78 673.1,138.3 C672.02,140.82 670.6,143.37 669.6,145.9 C668.6,148.43 667.95,150.98 667.1,153.5 C666.25,156.02 665.32,158.18 664.5,161 C663.68,163.82 662.58,168.83 662.2,170.4 L656.2,170.4 C655.82,168.83 654.72,163.82 653.9,161 C653.08,158.18 652.15,156.02 651.3,153.5 C650.45,150.98 649.8,148.43 648.8,145.9 C647.8,143.37 646.38,140.82 645.3,138.3 C644.22,135.78 643.07,132.57 642.3,130.8 C641.53,129.03 641.07,129.22 640.7,127.7 C640.33,126.18 639.83,123.72 640.1,121.7 C640.37,119.68 641.32,117.87 642.3,115.6 C643.28,113.33 644.62,110.62 646,108.1 C647.38,105.58 649.2,103.02 650.6,100.5 C652,97.98 653.4,95.52 654.4,93 C655.4,90.48 656.08,88.25 656.6,85.4 C657.12,82.55 657.35,77.48 657.5,75.9 Z" fill="#ee0000" stroke="#3a0000" stroke-width="0.6"/>
<line x1="659.2" y1="75.9" x2="659.2" y2="170.4" stroke="#111" stroke-width="0.7"/>
<rect x="657.85" y="114.9" width="2.7" height="26.5" fill="#000"/>
<circle cx="659.2" cy="126.5" r="1.55" fill="#fff"/>
<path d="M720.1,99.5 C720.6,100.17 722.27,102.07 723.1,103.5 C723.93,104.93 724.6,106.08 725.1,108.1 C725.6,110.12 726.05,113.08 726.1,115.6 C726.15,118.12 725.98,120.67 725.4,123.2 C724.82,125.73 723.48,128.28 722.6,130.8 C721.72,133.32 720.78,135.78 720.1,138.3 C719.42,140.82 718.93,143.37 718.5,145.9 C718.07,148.43 717.82,150.98 717.5,153.5 C717.18,156.02 716.93,158.48 716.6,161 C716.27,163.52 716.12,166.38 715.5,168.6 C714.88,170.82 713.33,173.35 712.9,174.3 L701.5,174.3 C701.07,173.35 699.52,170.82 698.9,168.6 C698.28,166.38 698.13,163.52 697.8,161 C697.47,158.48 697.22,156.02 696.9,153.5 C696.58,150.98 696.33,148.43 695.9,145.9 C695.47,143.37 694.98,140.82 694.3,138.3 C693.62,135.78 692.68,133.32 691.8,130.8 C690.92,128.28 689.58,125.73 689,123.2 C688.42,120.67 688.25,118.12 688.3,115.6 C688.35,113.08 688.8,110.12 689.3,108.1 C689.8,106.08 690.47,104.93 691.3,103.5 C692.13,102.07 693.8,100.17 694.3,99.5 Z" fill="#ee0000" stroke="#3a0000" stroke-width="0.6"/>
<line x1="707.2" y1="99.5" x2="707.2" y2="174.3" stroke="#111" stroke-width="0.7"/>
<rect x="705.85" y="109.6" width="2.7" height="36.3" fill="#000"/>
<circle cx="707.2" cy="122.5" r="1.55" fill="#fff"/>
<text x="0.6" y="11.2" font-family="'Liberation Serif', serif" font-size="16" font-weight="700" fill="#000" text-anchor="start">a</text>
<text x="0.9" y="236.6" font-family="'Liberation Serif', serif" font-size="16" font-weight="700" fill="#000" text-anchor="start">b</text>
<text x="0.6" y="624.2" font-family="'Liberation Serif', serif" font-size="16" font-weight="700" fill="#000" text-anchor="start">c</text>
<text x="18.7" y="233.8" font-family="'DejaVu Sans', sans-serif" font-size="7.35" font-weight="400" fill="#1e1e1e" text-anchor="start" stroke="#1e1e1e" stroke-width="0.18">Expression of FERMT1 in LUAD based on individual cancer</text>
<text x="125.4" y="242.4" font-family="'DejaVu Sans', sans-serif" font-size="7.35" font-weight="400" fill="#1e1e1e" text-anchor="middle" stroke="#1e1e1e" stroke-width="0.18">stages</text>
<line x1="26.3" y1="254.7" x2="26.3" y2="383.1" stroke="#8a8a8a" stroke-width="1.1"/>
<line x1="22.3" y1="383.1" x2="242" y2="383.1" stroke="#8a8a8a" stroke-width="1.1"/>
<line x1="22.3" y1="254.7" x2="26.3" y2="254.7" stroke="#8a8a8a" stroke-width="0.9"/>
<text x="20.9" y="256.75" font-family="'DejaVu Sans', sans-serif" font-size="5.7" font-weight="400" fill="#808080" text-anchor="end">40</text>
<line x1="22.3" y1="286.7" x2="26.3" y2="286.7" stroke="#8a8a8a" stroke-width="0.9"/>
<text x="20.9" y="288.75" font-family="'DejaVu Sans', sans-serif" font-size="5.7" font-weight="400" fill="#808080" text-anchor="end">30</text>
<line x1="22.3" y1="319.2" x2="26.3" y2="319.2" stroke="#8a8a8a" stroke-width="0.9"/>
<text x="20.9" y="321.25" font-family="'DejaVu Sans', sans-serif" font-size="5.7" font-weight="400" fill="#808080" text-anchor="end">20</text>
<line x1="22.3" y1="351.3" x2="26.3" y2="351.3" stroke="#8a8a8a" stroke-width="0.9"/>
<text x="20.9" y="353.35" font-family="'DejaVu Sans', sans-serif" font-size="5.7" font-weight="400" fill="#808080" text-anchor="end">10</text>
<line x1="22.3" y1="383.1" x2="26.3" y2="383.1" stroke="#8a8a8a" stroke-width="0.9"/>
<text x="20.9" y="385.15" font-family="'DejaVu Sans', sans-serif" font-size="5.7" font-weight="400" fill="#808080" text-anchor="end">0</text>
<text x="9.3" y="318.9" font-family="'Liberation Sans', sans-serif" font-size="6.2" font-weight="700" fill="#1a1a1a" text-anchor="middle" transform="rotate(-90 9.3 318.9)" stroke="#1a1a1a" stroke-width="0.15">Transcript per million</text>
<line x1="48.7" y1="376.5" x2="48.7" y2="378.7" stroke="#aaa" stroke-width="0.9"/>
<line x1="48.7" y1="376.5" x2="48.7" y2="378.7" stroke="#222" stroke-width="0.9" stroke-dasharray="1.3,1.2"/>
<line x1="48.7" y1="380.8" x2="48.7" y2="382.1" stroke="#aaa" stroke-width="0.9"/>
<line x1="48.7" y1="380.8" x2="48.7" y2="382.1" stroke="#222" stroke-width="0.9" stroke-dasharray="1.3,1.2"/>
<line x1="43.1" y1="376.5" x2="54.3" y2="376.5" stroke="#333" stroke-width="1"/>
<line x1="43.1" y1="382.1" x2="54.3" y2="382.1" stroke="#333" stroke-width="1"/>
<rect x="37.6" y="378.7" width="22.2" height="2.1" fill="#546adf"/>
<line x1="37.6" y1="379.7" x2="59.8" y2="379.7" stroke="#26318f" stroke-width="1.35"/>
<line x1="93.6" y1="290.3" x2="93.6" y2="341.3" stroke="#aaa" stroke-width="0.9"/>
<line x1="93.6" y1="290.3" x2="93.6" y2="341.3" stroke="#222" stroke-width="0.9" stroke-dasharray="1.3,1.2"/>
<line x1="93.6" y1="369.2" x2="93.6" y2="382.5" stroke="#aaa" stroke-width="0.9"/>
<line x1="93.6" y1="369.2" x2="93.6" y2="382.5" stroke="#222" stroke-width="0.9" stroke-dasharray="1.3,1.2"/>
<line x1="88" y1="290.3" x2="99.2" y2="290.3" stroke="#333" stroke-width="1"/>
<line x1="88" y1="382.5" x2="99.2" y2="382.5" stroke="#333" stroke-width="1"/>
<rect x="82.5" y="341.3" width="22.2" height="27.9" fill="#ee8a22"/>
<line x1="82.5" y1="358" x2="104.7" y2="358" stroke="#843a0e" stroke-width="1.35"/>
<line x1="138.2" y1="292" x2="138.2" y2="342" stroke="#aaa" stroke-width="0.9"/>
<line x1="138.2" y1="292" x2="138.2" y2="342" stroke="#222" stroke-width="0.9" stroke-dasharray="1.3,1.2"/>
<line x1="138.2" y1="368.8" x2="138.2" y2="382.3" stroke="#aaa" stroke-width="0.9"/>
<line x1="138.2" y1="368.8" x2="138.2" y2="382.3" stroke="#222" stroke-width="0.9" stroke-dasharray="1.3,1.2"/>
<line x1="132.6" y1="292" x2="143.8" y2="292" stroke="#333" stroke-width="1"/>
<line x1="132.6" y1="382.3" x2="143.8" y2="382.3" stroke="#333" stroke-width="1"/>
<rect x="127.1" y="342" width="22.2" height="26.8" fill="#b07232"/>
<line x1="127.1" y1="356.7" x2="149.3" y2="356.7" stroke="#5a2c10" stroke-width="1.35"/>
<line x1="182.7" y1="286.7" x2="182.7" y2="336.2" stroke="#aaa" stroke-width="0.9"/>
<line x1="182.7" y1="286.7" x2="182.7" y2="336.2" stroke="#222" stroke-width="0.9" stroke-dasharray="1.3,1.2"/>
<line x1="182.7" y1="363.3" x2="182.7" y2="382.3" stroke="#aaa" stroke-width="0.9"/>
<line x1="182.7" y1="363.3" x2="182.7" y2="382.3" stroke="#222" stroke-width="0.9" stroke-dasharray="1.3,1.2"/>
<line x1="177.1" y1="286.7" x2="188.3" y2="286.7" stroke="#333" stroke-width="1"/>
<line x1="177.1" y1="382.3" x2="188.3" y2="382.3" stroke="#333" stroke-width="1"/>
<rect x="171.6" y="336.2" width="22.2" height="27.1" fill="#b2d518"/>
<line x1="171.6" y1="353.3" x2="193.8" y2="353.3" stroke="#4a5a12" stroke-width="1.35"/>
<line x1="227.3" y1="301.3" x2="227.3" y2="341.7" stroke="#aaa" stroke-width="0.9"/>
<line x1="227.3" y1="301.3" x2="227.3" y2="341.7" stroke="#222" stroke-width="0.9" stroke-dasharray="1.3,1.2"/>
<line x1="227.3" y1="370.8" x2="227.3" y2="380.3" stroke="#aaa" stroke-width="0.9"/>
<line x1="227.3" y1="370.8" x2="227.3" y2="380.3" stroke="#222" stroke-width="0.9" stroke-dasharray="1.3,1.2"/>
<line x1="221.7" y1="301.3" x2="232.9" y2="301.3" stroke="#333" stroke-width="1"/>
<line x1="221.7" y1="380.3" x2="232.9" y2="380.3" stroke="#333" stroke-width="1"/>
<rect x="216.2" y="341.7" width="22.2" height="29.1" fill="#f0380c"/>
<line x1="216.2" y1="356.7" x2="238.4" y2="356.7" stroke="#8a1e08" stroke-width="1.35"/>
<line x1="50" y1="259.2" x2="93.7" y2="259.2" stroke="#333" stroke-width="1.05"/>
<text transform="translate(72.4 254.9) scale(1 1.12)" x="0" y="5.4" font-family="DejaVu Sans, sans-serif" font-size="9.4" font-weight="700" fill="#5a5a5a" text-anchor="middle" letter-spacing="0.8">***</text>
<line x1="50" y1="267.2" x2="137.8" y2="267.2" stroke="#333" stroke-width="1.05"/>
<text transform="translate(96.9 263.4) scale(1 1.12)" x="0" y="5.4" font-family="DejaVu Sans, sans-serif" font-size="9.4" font-weight="700" fill="#5a5a5a" text-anchor="middle" letter-spacing="0.8">***</text>
<line x1="50" y1="275" x2="181.5" y2="275" stroke="#333" stroke-width="1.05"/>
<text transform="translate(119.9 271.2) scale(1 1.12)" x="0" y="5.4" font-family="DejaVu Sans, sans-serif" font-size="9.4" font-weight="700" fill="#5a5a5a" text-anchor="middle" letter-spacing="0.8">***</text>
<line x1="50" y1="282.2" x2="227.2" y2="282.2" stroke="#333" stroke-width="1.05"/>
<text transform="translate(151.4 278.4) scale(1 1.12)" x="0" y="5.4" font-family="DejaVu Sans, sans-serif" font-size="9.4" font-weight="700" fill="#5a5a5a" text-anchor="middle" letter-spacing="0.8">***</text>
<text x="48.7" y="391.2" font-family="'DejaVu Sans', sans-serif" font-size="4.5" font-weight="400" fill="#6a6e78" text-anchor="middle" stroke="#6a6e78" stroke-width="0.12">Normal</text>
<text x="48.7" y="396.9" font-family="'DejaVu Sans', sans-serif" font-size="4.5" font-weight="400" fill="#6a6e78" text-anchor="middle" stroke="#6a6e78" stroke-width="0.12">(n=59)</text>
<text x="93.6" y="391.2" font-family="'DejaVu Sans', sans-serif" font-size="4.5" font-weight="400" fill="#6a6e78" text-anchor="middle" stroke="#6a6e78" stroke-width="0.12">Stage1</text>
<text x="93.6" y="396.9" font-family="'DejaVu Sans', sans-serif" font-size="4.5" font-weight="400" fill="#6a6e78" text-anchor="middle" stroke="#6a6e78" stroke-width="0.12">(n=277)</text>
<text x="138.2" y="391.2" font-family="'DejaVu Sans', sans-serif" font-size="4.5" font-weight="400" fill="#6a6e78" text-anchor="middle" stroke="#6a6e78" stroke-width="0.12">Stage2</text>
<text x="138.2" y="396.9" font-family="'DejaVu Sans', sans-serif" font-size="4.5" font-weight="400" fill="#6a6e78" text-anchor="middle" stroke="#6a6e78" stroke-width="0.12">(n=125)</text>
<text x="182.7" y="391.2" font-family="'DejaVu Sans', sans-serif" font-size="4.5" font-weight="400" fill="#6a6e78" text-anchor="middle" stroke="#6a6e78" stroke-width="0.12">Stage3</text>
<text x="182.7" y="396.9" font-family="'DejaVu Sans', sans-serif" font-size="4.5" font-weight="400" fill="#6a6e78" text-anchor="middle" stroke="#6a6e78" stroke-width="0.12">(n=85)</text>
<text x="227.3" y="391.2" font-family="'DejaVu Sans', sans-serif" font-size="4.5" font-weight="400" fill="#6a6e78" text-anchor="middle" stroke="#6a6e78" stroke-width="0.12">Stage4</text>
<text x="227.3" y="396.9" font-family="'DejaVu Sans', sans-serif" font-size="4.5" font-weight="400" fill="#6a6e78" text-anchor="middle" stroke="#6a6e78" stroke-width="0.12">(n=28)</text>
<text x="138" y="407.4" font-family="'Liberation Sans', sans-serif" font-size="6.2" font-weight="700" fill="#111" text-anchor="middle" stroke="#111" stroke-width="0.1">TCGA samples</text>
<text x="262.7" y="233.8" font-family="'DejaVu Sans', sans-serif" font-size="7.35" font-weight="400" fill="#1e1e1e" text-anchor="start" stroke="#1e1e1e" stroke-width="0.18">Expression of FERMT2 in LUAD based on individual cancer</text>
<text x="369.4" y="242.4" font-family="'DejaVu Sans', sans-serif" font-size="7.35" font-weight="400" fill="#1e1e1e" text-anchor="middle" stroke="#1e1e1e" stroke-width="0.18">stages</text>
<line x1="273.3" y1="255" x2="273.3" y2="383.1" stroke="#8a8a8a" stroke-width="1.1"/>
<line x1="269.3" y1="383.1" x2="493.3" y2="383.1" stroke="#8a8a8a" stroke-width="1.1"/>
<line x1="269.3" y1="255" x2="273.3" y2="255" stroke="#8a8a8a" stroke-width="0.9"/>
<text x="267.9" y="257.05" font-family="'DejaVu Sans', sans-serif" font-size="5.7" font-weight="400" fill="#808080" text-anchor="end">125</text>
<line x1="269.3" y1="280.8" x2="273.3" y2="280.8" stroke="#8a8a8a" stroke-width="0.9"/>
<text x="267.9" y="282.85" font-family="'DejaVu Sans', sans-serif" font-size="5.7" font-weight="400" fill="#808080" text-anchor="end">100</text>
<line x1="269.3" y1="306.2" x2="273.3" y2="306.2" stroke="#8a8a8a" stroke-width="0.9"/>
<text x="267.9" y="308.25" font-family="'DejaVu Sans', sans-serif" font-size="5.7" font-weight="400" fill="#808080" text-anchor="end">75</text>
<line x1="269.3" y1="332" x2="273.3" y2="332" stroke="#8a8a8a" stroke-width="0.9"/>
<text x="267.9" y="334.05" font-family="'DejaVu Sans', sans-serif" font-size="5.7" font-weight="400" fill="#808080" text-anchor="end">50</text>
<line x1="269.3" y1="357.5" x2="273.3" y2="357.5" stroke="#8a8a8a" stroke-width="0.9"/>
<text x="267.9" y="359.55" font-family="'DejaVu Sans', sans-serif" font-size="5.7" font-weight="400" fill="#808080" text-anchor="end">25</text>
<line x1="269.3" y1="383.1" x2="273.3" y2="383.1" stroke="#8a8a8a" stroke-width="0.9"/>
<text x="267.9" y="385.15" font-family="'DejaVu Sans', sans-serif" font-size="5.7" font-weight="400" fill="#808080" text-anchor="end">0</text>
<text x="253.2" y="319.05" font-family="'Liberation Sans', sans-serif" font-size="6.2" font-weight="700" fill="#1a1a1a" text-anchor="middle" transform="rotate(-90 253.2 319.05)" stroke="#1a1a1a" stroke-width="0.15">Transcript per million</text>
<line x1="295.3" y1="284.5" x2="295.3" y2="310" stroke="#aaa" stroke-width="0.9"/>
<line x1="295.3" y1="284.5" x2="295.3" y2="310" stroke="#222" stroke-width="0.9" stroke-dasharray="1.3,1.2"/>
<line x1="295.3" y1="335.8" x2="295.3" y2="361.7" stroke="#aaa" stroke-width="0.9"/>
<line x1="295.3" y1="335.8" x2="295.3" y2="361.7" stroke="#222" stroke-width="0.9" stroke-dasharray="1.3,1.2"/>
<line x1="289.7" y1="284.5" x2="300.9" y2="284.5" stroke="#333" stroke-width="1"/>
<line x1="289.7" y1="361.7" x2="300.9" y2="361.7" stroke="#333" stroke-width="1"/>
<rect x="284.2" y="310" width="22.2" height="25.8" fill="#546adf"/>
<line x1="284.2" y1="321.3" x2="306.4" y2="321.3" stroke="#26318f" stroke-width="1.35"/>
<line x1="339.3" y1="331.3" x2="339.3" y2="353" stroke="#aaa" stroke-width="0.9"/>
<line x1="339.3" y1="331.3" x2="339.3" y2="353" stroke="#222" stroke-width="0.9" stroke-dasharray="1.3,1.2"/>
<line x1="339.3" y1="367.5" x2="339.3" y2="379.7" stroke="#aaa" stroke-width="0.9"/>
<line x1="339.3" y1="367.5" x2="339.3" y2="379.7" stroke="#222" stroke-width="0.9" stroke-dasharray="1.3,1.2"/>
<line x1="333.7" y1="331.3" x2="344.9" y2="331.3" stroke="#333" stroke-width="1"/>
<line x1="333.7" y1="379.7" x2="344.9" y2="379.7" stroke="#333" stroke-width="1"/>
<rect x="328.2" y="353" width="22.2" height="14.5" fill="#ee8a22"/>
<line x1="328.2" y1="361.7" x2="350.4" y2="361.7" stroke="#843a0e" stroke-width="1.35"/>
<line x1="383.2" y1="330.3" x2="383.2" y2="353" stroke="#aaa" stroke-width="0.9"/>
<line x1="383.2" y1="330.3" x2="383.2" y2="353" stroke="#222" stroke-width="0.9" stroke-dasharray="1.3,1.2"/>
<line x1="383.2" y1="368.3" x2="383.2" y2="379.2" stroke="#aaa" stroke-width="0.9"/>
<line x1="383.2" y1="368.3" x2="383.2" y2="379.2" stroke="#222" stroke-width="0.9" stroke-dasharray="1.3,1.2"/>
<line x1="377.6" y1="330.3" x2="388.8" y2="330.3" stroke="#333" stroke-width="1"/>
<line x1="377.6" y1="379.2" x2="388.8" y2="379.2" stroke="#333" stroke-width="1"/>
<rect x="372.1" y="353" width="22.2" height="15.3" fill="#b07232"/>
<line x1="372.1" y1="361.3" x2="394.3" y2="361.3" stroke="#5a2c10" stroke-width="1.35"/>
<line x1="427" y1="334.5" x2="427" y2="353.3" stroke="#aaa" stroke-width="0.9"/>
<line x1="427" y1="334.5" x2="427" y2="353.3" stroke="#222" stroke-width="0.9" stroke-dasharray="1.3,1.2"/>
<line x1="427" y1="367.8" x2="427" y2="380.3" stroke="#aaa" stroke-width="0.9"/>
<line x1="427" y1="367.8" x2="427" y2="380.3" stroke="#222" stroke-width="0.9" stroke-dasharray="1.3,1.2"/>
<line x1="421.4" y1="334.5" x2="432.6" y2="334.5" stroke="#333" stroke-width="1"/>
<line x1="421.4" y1="380.3" x2="432.6" y2="380.3" stroke="#333" stroke-width="1"/>
<rect x="415.9" y="353.3" width="22.2" height="14.5" fill="#b2d518"/>
<line x1="415.9" y1="363.3" x2="438.1" y2="363.3" stroke="#4a5a12" stroke-width="1.35"/>
<line x1="471.5" y1="336.7" x2="471.5" y2="351.2" stroke="#aaa" stroke-width="0.9"/>
<line x1="471.5" y1="336.7" x2="471.5" y2="351.2" stroke="#222" stroke-width="0.9" stroke-dasharray="1.3,1.2"/>
<line x1="471.5" y1="364.2" x2="471.5" y2="375.8" stroke="#aaa" stroke-width="0.9"/>
<line x1="471.5" y1="364.2" x2="471.5" y2="375.8" stroke="#222" stroke-width="0.9" stroke-dasharray="1.3,1.2"/>
<line x1="465.9" y1="336.7" x2="477.1" y2="336.7" stroke="#333" stroke-width="1"/>
<line x1="465.9" y1="375.8" x2="477.1" y2="375.8" stroke="#333" stroke-width="1"/>
<rect x="460.4" y="351.2" width="22.2" height="13" fill="#f0380c"/>
<line x1="460.4" y1="357.8" x2="482.6" y2="357.8" stroke="#8a1e08" stroke-width="1.35"/>
<line x1="296.3" y1="255.8" x2="340.5" y2="255.8" stroke="#333" stroke-width="1.05"/>
<text transform="translate(318.7 251.5) scale(1 1.12)" x="0" y="5.4" font-family="DejaVu Sans, sans-serif" font-size="9.4" font-weight="700" fill="#5a5a5a" text-anchor="middle" letter-spacing="0.8">***</text>
<line x1="296.3" y1="263.3" x2="384.8" y2="263.3" stroke="#333" stroke-width="1.05"/>
<text transform="translate(343.2 259.5) scale(1 1.12)" x="0" y="5.4" font-family="DejaVu Sans, sans-serif" font-size="9.4" font-weight="700" fill="#5a5a5a" text-anchor="middle" letter-spacing="0.8">***</text>
<line x1="296.3" y1="271.3" x2="427.8" y2="271.3" stroke="#333" stroke-width="1.05"/>
<text transform="translate(366.2 267.5) scale(1 1.12)" x="0" y="5.4" font-family="DejaVu Sans, sans-serif" font-size="9.4" font-weight="700" fill="#5a5a5a" text-anchor="middle" letter-spacing="0.8">***</text>
<line x1="296.3" y1="278.8" x2="473.7" y2="278.8" stroke="#333" stroke-width="1.05"/>
<text transform="translate(397.7 275) scale(1 1.12)" x="0" y="5.4" font-family="DejaVu Sans, sans-serif" font-size="9.4" font-weight="700" fill="#5a5a5a" text-anchor="middle" letter-spacing="0.8">***</text>
<text x="295.3" y="391.2" font-family="'DejaVu Sans', sans-serif" font-size="4.5" font-weight="400" fill="#6a6e78" text-anchor="middle" stroke="#6a6e78" stroke-width="0.12">Normal</text>
<text x="295.3" y="396.9" font-family="'DejaVu Sans', sans-serif" font-size="4.5" font-weight="400" fill="#6a6e78" text-anchor="middle" stroke="#6a6e78" stroke-width="0.12">(n=59)</text>
<text x="339.3" y="391.2" font-family="'DejaVu Sans', sans-serif" font-size="4.5" font-weight="400" fill="#6a6e78" text-anchor="middle" stroke="#6a6e78" stroke-width="0.12">Stage1</text>
<text x="339.3" y="396.9" font-family="'DejaVu Sans', sans-serif" font-size="4.5" font-weight="400" fill="#6a6e78" text-anchor="middle" stroke="#6a6e78" stroke-width="0.12">(n=277)</text>
<text x="383.2" y="391.2" font-family="'DejaVu Sans', sans-serif" font-size="4.5" font-weight="400" fill="#6a6e78" text-anchor="middle" stroke="#6a6e78" stroke-width="0.12">Stage2</text>
<text x="383.2" y="396.9" font-family="'DejaVu Sans', sans-serif" font-size="4.5" font-weight="400" fill="#6a6e78" text-anchor="middle" stroke="#6a6e78" stroke-width="0.12">(n=125)</text>
<text x="427" y="391.2" font-family="'DejaVu Sans', sans-serif" font-size="4.5" font-weight="400" fill="#6a6e78" text-anchor="middle" stroke="#6a6e78" stroke-width="0.12">Stage3</text>
<text x="427" y="396.9" font-family="'DejaVu Sans', sans-serif" font-size="4.5" font-weight="400" fill="#6a6e78" text-anchor="middle" stroke="#6a6e78" stroke-width="0.12">(n=85)</text>
<text x="471.5" y="391.2" font-family="'DejaVu Sans', sans-serif" font-size="4.5" font-weight="400" fill="#6a6e78" text-anchor="middle" stroke="#6a6e78" stroke-width="0.12">Stage4</text>
<text x="471.5" y="396.9" font-family="'DejaVu Sans', sans-serif" font-size="4.5" font-weight="400" fill="#6a6e78" text-anchor="middle" stroke="#6a6e78" stroke-width="0.12">(n=28)</text>
<text x="383.4" y="407.2" font-family="'Liberation Sans', sans-serif" font-size="6.2" font-weight="700" fill="#111" text-anchor="middle" stroke="#111" stroke-width="0.1">TCGA samples</text>
<text x="511.5" y="233.8" font-family="'DejaVu Sans', sans-serif" font-size="7.35" font-weight="400" fill="#1e1e1e" text-anchor="start" stroke="#1e1e1e" stroke-width="0.18">Expression of FERMT3 in LUAD based on individual cancer</text>
<text x="618.2" y="242.4" font-family="'DejaVu Sans', sans-serif" font-size="7.35" font-weight="400" fill="#1e1e1e" text-anchor="middle" stroke="#1e1e1e" stroke-width="0.18">stages</text>
<line x1="522.6" y1="254.2" x2="522.6" y2="383.1" stroke="#8a8a8a" stroke-width="1.1"/>
<line x1="518.6" y1="383.1" x2="743.5" y2="383.1" stroke="#8a8a8a" stroke-width="1.1"/>
<line x1="518.6" y1="254.2" x2="522.6" y2="254.2" stroke="#8a8a8a" stroke-width="0.9"/>
<text x="517.2" y="256.25" font-family="'DejaVu Sans', sans-serif" font-size="5.7" font-weight="400" fill="#808080" text-anchor="end">100</text>
<line x1="518.6" y1="280.5" x2="522.6" y2="280.5" stroke="#8a8a8a" stroke-width="0.9"/>
<text x="517.2" y="282.55" font-family="'DejaVu Sans', sans-serif" font-size="5.7" font-weight="400" fill="#808080" text-anchor="end">80</text>
<line x1="518.6" y1="306.2" x2="522.6" y2="306.2" stroke="#8a8a8a" stroke-width="0.9"/>
<text x="517.2" y="308.25" font-family="'DejaVu Sans', sans-serif" font-size="5.7" font-weight="400" fill="#808080" text-anchor="end">60</text>
<line x1="518.6" y1="332" x2="522.6" y2="332" stroke="#8a8a8a" stroke-width="0.9"/>
<text x="517.2" y="334.05" font-family="'DejaVu Sans', sans-serif" font-size="5.7" font-weight="400" fill="#808080" text-anchor="end">40</text>
<line x1="518.6" y1="357.5" x2="522.6" y2="357.5" stroke="#8a8a8a" stroke-width="0.9"/>
<text x="517.2" y="359.55" font-family="'DejaVu Sans', sans-serif" font-size="5.7" font-weight="400" fill="#808080" text-anchor="end">20</text>
<line x1="518.6" y1="383.1" x2="522.6" y2="383.1" stroke="#8a8a8a" stroke-width="0.9"/>
<text x="517.2" y="385.15" font-family="'DejaVu Sans', sans-serif" font-size="5.7" font-weight="400" fill="#808080" text-anchor="end">0</text>
<text x="501.9" y="318.65" font-family="'Liberation Sans', sans-serif" font-size="6.2" font-weight="700" fill="#1a1a1a" text-anchor="middle" transform="rotate(-90 501.9 318.65)" stroke="#1a1a1a" stroke-width="0.15">Transcript per million</text>
<line x1="544.8" y1="283.3" x2="544.8" y2="318" stroke="#aaa" stroke-width="0.9"/>
<line x1="544.8" y1="283.3" x2="544.8" y2="318" stroke="#222" stroke-width="0.9" stroke-dasharray="1.3,1.2"/>
<line x1="544.8" y1="339.7" x2="544.8" y2="358.3" stroke="#aaa" stroke-width="0.9"/>
<line x1="544.8" y1="339.7" x2="544.8" y2="358.3" stroke="#222" stroke-width="0.9" stroke-dasharray="1.3,1.2"/>
<line x1="539.2" y1="283.3" x2="550.4" y2="283.3" stroke="#333" stroke-width="1"/>
<line x1="539.2" y1="358.3" x2="550.4" y2="358.3" stroke="#333" stroke-width="1"/>
<rect x="533.7" y="318" width="22.2" height="21.7" fill="#546adf"/>
<line x1="533.7" y1="328.3" x2="555.9" y2="328.3" stroke="#26318f" stroke-width="1.35"/>
<line x1="588.8" y1="296.7" x2="588.8" y2="339.2" stroke="#aaa" stroke-width="0.9"/>
<line x1="588.8" y1="296.7" x2="588.8" y2="339.2" stroke="#222" stroke-width="0.9" stroke-dasharray="1.3,1.2"/>
<line x1="588.8" y1="365.8" x2="588.8" y2="381.2" stroke="#aaa" stroke-width="0.9"/>
<line x1="588.8" y1="365.8" x2="588.8" y2="381.2" stroke="#222" stroke-width="0.9" stroke-dasharray="1.3,1.2"/>
<line x1="583.2" y1="296.7" x2="594.4" y2="296.7" stroke="#333" stroke-width="1"/>
<line x1="583.2" y1="381.2" x2="594.4" y2="381.2" stroke="#333" stroke-width="1"/>
<rect x="577.7" y="339.2" width="22.2" height="26.6" fill="#ee8a22"/>
<line x1="577.7" y1="354.2" x2="599.9" y2="354.2" stroke="#843a0e" stroke-width="1.35"/>
<line x1="632.8" y1="296.3" x2="632.8" y2="344.2" stroke="#aaa" stroke-width="0.9"/>
<line x1="632.8" y1="296.3" x2="632.8" y2="344.2" stroke="#222" stroke-width="0.9" stroke-dasharray="1.3,1.2"/>
<line x1="632.8" y1="367.5" x2="632.8" y2="380.3" stroke="#aaa" stroke-width="0.9"/>
<line x1="632.8" y1="367.5" x2="632.8" y2="380.3" stroke="#222" stroke-width="0.9" stroke-dasharray="1.3,1.2"/>
<line x1="627.2" y1="296.3" x2="638.4" y2="296.3" stroke="#333" stroke-width="1"/>
<line x1="627.2" y1="380.3" x2="638.4" y2="380.3" stroke="#333" stroke-width="1"/>
<rect x="621.7" y="344.2" width="22.2" height="23.3" fill="#b07232"/>
<line x1="621.7" y1="355.3" x2="643.9" y2="355.3" stroke="#5a2c10" stroke-width="1.35"/>
<line x1="676.7" y1="317" x2="676.7" y2="348" stroke="#aaa" stroke-width="0.9"/>
<line x1="676.7" y1="317" x2="676.7" y2="348" stroke="#222" stroke-width="0.9" stroke-dasharray="1.3,1.2"/>
<line x1="676.7" y1="368.7" x2="676.7" y2="378.3" stroke="#aaa" stroke-width="0.9"/>
<line x1="676.7" y1="368.7" x2="676.7" y2="378.3" stroke="#222" stroke-width="0.9" stroke-dasharray="1.3,1.2"/>
<line x1="671.1" y1="317" x2="682.3" y2="317" stroke="#333" stroke-width="1"/>
<line x1="671.1" y1="378.3" x2="682.3" y2="378.3" stroke="#333" stroke-width="1"/>
<rect x="665.6" y="348" width="22.2" height="20.7" fill="#b2d518"/>
<line x1="665.6" y1="358.7" x2="687.8" y2="358.7" stroke="#4a5a12" stroke-width="1.35"/>
<line x1="720.8" y1="320.8" x2="720.8" y2="340" stroke="#aaa" stroke-width="0.9"/>
<line x1="720.8" y1="320.8" x2="720.8" y2="340" stroke="#222" stroke-width="0.9" stroke-dasharray="1.3,1.2"/>
<line x1="720.8" y1="371.7" x2="720.8" y2="379.5" stroke="#aaa" stroke-width="0.9"/>
<line x1="720.8" y1="371.7" x2="720.8" y2="379.5" stroke="#222" stroke-width="0.9" stroke-dasharray="1.3,1.2"/>
<line x1="715.2" y1="320.8" x2="726.4" y2="320.8" stroke="#333" stroke-width="1"/>
<line x1="715.2" y1="379.5" x2="726.4" y2="379.5" stroke="#333" stroke-width="1"/>
<rect x="709.7" y="340" width="22.2" height="31.7" fill="#f0380c"/>
<line x1="709.7" y1="356.3" x2="731.9" y2="356.3" stroke="#8a1e08" stroke-width="1.35"/>
<line x1="546.3" y1="253.8" x2="589.8" y2="253.8" stroke="#333" stroke-width="1.05"/>
<text transform="translate(568.7 249.5) scale(1 1.12)" x="0" y="5.4" font-family="DejaVu Sans, sans-serif" font-size="9.4" font-weight="700" fill="#5a5a5a" text-anchor="middle" letter-spacing="0.8">***</text>
<line x1="546.3" y1="261.7" x2="633.8" y2="261.7" stroke="#333" stroke-width="1.05"/>
<text transform="translate(593.2 257.9) scale(1 1.12)" x="0" y="5.4" font-family="DejaVu Sans, sans-serif" font-size="9.4" font-weight="700" fill="#5a5a5a" text-anchor="middle" letter-spacing="0.8">***</text>
<line x1="546.3" y1="269.5" x2="677.5" y2="269.5" stroke="#333" stroke-width="1.05"/>
<text transform="translate(616.2 265.7) scale(1 1.12)" x="0" y="5.4" font-family="DejaVu Sans, sans-serif" font-size="9.4" font-weight="700" fill="#5a5a5a" text-anchor="middle" letter-spacing="0.8">***</text>
<line x1="546.3" y1="277" x2="723.7" y2="277" stroke="#333" stroke-width="1.05"/>
<text transform="translate(647.7 273.2) scale(1 1.12)" x="0" y="5.4" font-family="DejaVu Sans, sans-serif" font-size="9.4" font-weight="700" fill="#5a5a5a" text-anchor="middle" letter-spacing="0.8">***</text>
<text x="544.8" y="391.2" font-family="'DejaVu Sans', sans-serif" font-size="4.5" font-weight="400" fill="#6a6e78" text-anchor="middle" stroke="#6a6e78" stroke-width="0.12">Normal</text>
<text x="544.8" y="396.9" font-family="'DejaVu Sans', sans-serif" font-size="4.5" font-weight="400" fill="#6a6e78" text-anchor="middle" stroke="#6a6e78" stroke-width="0.12">(n=59)</text>
<text x="588.8" y="391.2" font-family="'DejaVu Sans', sans-serif" font-size="4.5" font-weight="400" fill="#6a6e78" text-anchor="middle" stroke="#6a6e78" stroke-width="0.12">Stage1</text>
<text x="588.8" y="396.9" font-family="'DejaVu Sans', sans-serif" font-size="4.5" font-weight="400" fill="#6a6e78" text-anchor="middle" stroke="#6a6e78" stroke-width="0.12">(n=277)</text>
<text x="632.8" y="391.2" font-family="'DejaVu Sans', sans-serif" font-size="4.5" font-weight="400" fill="#6a6e78" text-anchor="middle" stroke="#6a6e78" stroke-width="0.12">Stage2</text>
<text x="632.8" y="396.9" font-family="'DejaVu Sans', sans-serif" font-size="4.5" font-weight="400" fill="#6a6e78" text-anchor="middle" stroke="#6a6e78" stroke-width="0.12">(n=125)</text>
<text x="676.7" y="391.2" font-family="'DejaVu Sans', sans-serif" font-size="4.5" font-weight="400" fill="#6a6e78" text-anchor="middle" stroke="#6a6e78" stroke-width="0.12">Stage3</text>
<text x="676.7" y="396.9" font-family="'DejaVu Sans', sans-serif" font-size="4.5" font-weight="400" fill="#6a6e78" text-anchor="middle" stroke="#6a6e78" stroke-width="0.12">(n=85)</text>
<text x="720.8" y="391.2" font-family="'DejaVu Sans', sans-serif" font-size="4.5" font-weight="400" fill="#6a6e78" text-anchor="middle" stroke="#6a6e78" stroke-width="0.12">Stage4</text>
<text x="720.8" y="396.9" font-family="'DejaVu Sans', sans-serif" font-size="4.5" font-weight="400" fill="#6a6e78" text-anchor="middle" stroke="#6a6e78" stroke-width="0.12">(n=28)</text>
<text x="633" y="407.2" font-family="'Liberation Sans', sans-serif" font-size="6.2" font-weight="700" fill="#111" text-anchor="middle" stroke="#111" stroke-width="0.1">TCGA samples</text>
<text x="16.7" y="425" font-family="'DejaVu Sans', sans-serif" font-size="7.35" font-weight="400" fill="#1e1e1e" text-anchor="start" stroke="#1e1e1e" stroke-width="0.18">Expression of FERMT1 in LUSC based on individual cancer</text>
<text x="123.4" y="433.6" font-family="'DejaVu Sans', sans-serif" font-size="7.35" font-weight="400" fill="#1e1e1e" text-anchor="middle" stroke="#1e1e1e" stroke-width="0.18">stages</text>
<line x1="26.3" y1="446.7" x2="26.3" y2="574.5" stroke="#8a8a8a" stroke-width="1.1"/>
<line x1="22.3" y1="574.5" x2="242" y2="574.5" stroke="#8a8a8a" stroke-width="1.1"/>
<line x1="22.3" y1="446.7" x2="26.3" y2="446.7" stroke="#8a8a8a" stroke-width="0.9"/>
<text x="20.9" y="448.75" font-family="'DejaVu Sans', sans-serif" font-size="5.7" font-weight="400" fill="#808080" text-anchor="end">100</text>
<line x1="22.3" y1="478.3" x2="26.3" y2="478.3" stroke="#8a8a8a" stroke-width="0.9"/>
<text x="20.9" y="480.35" font-family="'DejaVu Sans', sans-serif" font-size="5.7" font-weight="400" fill="#808080" text-anchor="end">75</text>
<line x1="22.3" y1="510.5" x2="26.3" y2="510.5" stroke="#8a8a8a" stroke-width="0.9"/>
<text x="20.9" y="512.55" font-family="'DejaVu Sans', sans-serif" font-size="5.7" font-weight="400" fill="#808080" text-anchor="end">50</text>
<line x1="22.3" y1="542.5" x2="26.3" y2="542.5" stroke="#8a8a8a" stroke-width="0.9"/>
<text x="20.9" y="544.55" font-family="'DejaVu Sans', sans-serif" font-size="5.7" font-weight="400" fill="#808080" text-anchor="end">25</text>
<line x1="22.3" y1="574.5" x2="26.3" y2="574.5" stroke="#8a8a8a" stroke-width="0.9"/>
<text x="20.9" y="576.55" font-family="'DejaVu Sans', sans-serif" font-size="5.7" font-weight="400" fill="#808080" text-anchor="end">0</text>
<text x="7.3" y="510.6" font-family="'Liberation Sans', sans-serif" font-size="6.2" font-weight="700" fill="#1a1a1a" text-anchor="middle" transform="rotate(-90 7.3 510.6)" stroke="#1a1a1a" stroke-width="0.15">Transcript per million</text>
<line x1="48.7" y1="570" x2="48.7" y2="571.7" stroke="#aaa" stroke-width="0.9"/>
<line x1="48.7" y1="570" x2="48.7" y2="571.7" stroke="#222" stroke-width="0.9" stroke-dasharray="1.3,1.2"/>
<line x1="48.7" y1="574.2" x2="48.7" y2="574.4" stroke="#aaa" stroke-width="0.9"/>
<line x1="48.7" y1="574.2" x2="48.7" y2="574.4" stroke="#222" stroke-width="0.9" stroke-dasharray="1.3,1.2"/>
<line x1="43.1" y1="570" x2="54.3" y2="570" stroke="#333" stroke-width="1"/>
<line x1="43.1" y1="574.4" x2="54.3" y2="574.4" stroke="#333" stroke-width="1"/>
<rect x="37.6" y="571.7" width="22.2" height="2.5" fill="#546adf"/>
<line x1="37.6" y1="573" x2="59.8" y2="573" stroke="#26318f" stroke-width="1.35"/>
<line x1="92.9" y1="460" x2="92.9" y2="516.3" stroke="#aaa" stroke-width="0.9"/>
<line x1="92.9" y1="460" x2="92.9" y2="516.3" stroke="#222" stroke-width="0.9" stroke-dasharray="1.3,1.2"/>
<line x1="92.9" y1="550" x2="92.9" y2="574.2" stroke="#aaa" stroke-width="0.9"/>
<line x1="92.9" y1="550" x2="92.9" y2="574.2" stroke="#222" stroke-width="0.9" stroke-dasharray="1.3,1.2"/>
<line x1="87.3" y1="460" x2="98.5" y2="460" stroke="#333" stroke-width="1"/>
<line x1="87.3" y1="574.2" x2="98.5" y2="574.2" stroke="#333" stroke-width="1"/>
<rect x="81.8" y="516.3" width="22.2" height="33.7" fill="#ee8a22"/>
<line x1="81.8" y1="537.2" x2="104" y2="537.2" stroke="#843a0e" stroke-width="1.35"/>
<line x1="136.3" y1="452.6" x2="136.3" y2="510.6" stroke="#aaa" stroke-width="0.9"/>
<line x1="136.3" y1="452.6" x2="136.3" y2="510.6" stroke="#222" stroke-width="0.9" stroke-dasharray="1.3,1.2"/>
<line x1="136.3" y1="551.8" x2="136.3" y2="574" stroke="#aaa" stroke-width="0.9"/>
<line x1="136.3" y1="551.8" x2="136.3" y2="574" stroke="#222" stroke-width="0.9" stroke-dasharray="1.3,1.2"/>
<line x1="130.7" y1="452.6" x2="141.9" y2="452.6" stroke="#333" stroke-width="1"/>
<line x1="130.7" y1="574" x2="141.9" y2="574" stroke="#333" stroke-width="1"/>
<rect x="125.2" y="510.6" width="22.2" height="41.2" fill="#b07232"/>
<line x1="125.2" y1="536.7" x2="147.4" y2="536.7" stroke="#5a2c10" stroke-width="1.35"/>
<line x1="180.3" y1="455.7" x2="180.3" y2="520" stroke="#aaa" stroke-width="0.9"/>
<line x1="180.3" y1="455.7" x2="180.3" y2="520" stroke="#222" stroke-width="0.9" stroke-dasharray="1.3,1.2"/>
<line x1="180.3" y1="557" x2="180.3" y2="574" stroke="#aaa" stroke-width="0.9"/>
<line x1="180.3" y1="557" x2="180.3" y2="574" stroke="#222" stroke-width="0.9" stroke-dasharray="1.3,1.2"/>
<line x1="174.7" y1="455.7" x2="185.9" y2="455.7" stroke="#333" stroke-width="1"/>
<line x1="174.7" y1="574" x2="185.9" y2="574" stroke="#333" stroke-width="1"/>
<rect x="169.2" y="520" width="22.2" height="37" fill="#b2d518"/>
<line x1="169.2" y1="544" x2="191.4" y2="544" stroke="#4a5a12" stroke-width="1.35"/>
<line x1="224.7" y1="485.4" x2="224.7" y2="493.5" stroke="#aaa" stroke-width="0.9"/>
<line x1="224.7" y1="485.4" x2="224.7" y2="493.5" stroke="#222" stroke-width="0.9" stroke-dasharray="1.3,1.2"/>
<line x1="224.7" y1="548.4" x2="224.7" y2="563.3" stroke="#aaa" stroke-width="0.9"/>
<line x1="224.7" y1="548.4" x2="224.7" y2="563.3" stroke="#222" stroke-width="0.9" stroke-dasharray="1.3,1.2"/>
<line x1="219.1" y1="485.4" x2="230.3" y2="485.4" stroke="#333" stroke-width="1"/>
<line x1="219.1" y1="563.3" x2="230.3" y2="563.3" stroke="#333" stroke-width="1"/>
<rect x="213.6" y="493.5" width="22.2" height="54.9" fill="#f0380c"/>
<line x1="213.6" y1="538" x2="235.8" y2="538" stroke="#8a1e08" stroke-width="1.35"/>
<line x1="50.3" y1="443.8" x2="93.8" y2="443.8" stroke="#333" stroke-width="1.05"/>
<text transform="translate(72.7 439.5) scale(1 1.12)" x="0" y="5.4" font-family="DejaVu Sans, sans-serif" font-size="9.4" font-weight="700" fill="#5a5a5a" text-anchor="middle" letter-spacing="0.8">***</text>
<line x1="50.3" y1="451.7" x2="139" y2="451.7" stroke="#333" stroke-width="1.05"/>
<text transform="translate(97.2 447.9) scale(1 1.12)" x="0" y="5.4" font-family="DejaVu Sans, sans-serif" font-size="9.4" font-weight="700" fill="#5a5a5a" text-anchor="middle" letter-spacing="0.8">***</text>
<line x1="50.3" y1="459.3" x2="181.8" y2="459.3" stroke="#333" stroke-width="1.05"/>
<text transform="translate(120.2 455.5) scale(1 1.12)" x="0" y="5.4" font-family="DejaVu Sans, sans-serif" font-size="9.4" font-weight="700" fill="#5a5a5a" text-anchor="middle" letter-spacing="0.8">***</text>
<line x1="50.3" y1="467.2" x2="228.1" y2="467.2" stroke="#333" stroke-width="1.05"/>
<text transform="translate(151.7 463.4) scale(1 1.12)" x="0" y="5.4" font-family="DejaVu Sans, sans-serif" font-size="9.4" font-weight="700" fill="#5a5a5a" text-anchor="middle" letter-spacing="0.8">***</text>
<text x="48.7" y="582.4" font-family="'DejaVu Sans', sans-serif" font-size="4.5" font-weight="400" fill="#6a6e78" text-anchor="middle" stroke="#6a6e78" stroke-width="0.12">Normal</text>
<text x="48.7" y="588.1" font-family="'DejaVu Sans', sans-serif" font-size="4.5" font-weight="400" fill="#6a6e78" text-anchor="middle" stroke="#6a6e78" stroke-width="0.12">(n=52)</text>
<text x="92.9" y="582.4" font-family="'DejaVu Sans', sans-serif" font-size="4.5" font-weight="400" fill="#6a6e78" text-anchor="middle" stroke="#6a6e78" stroke-width="0.12">Stage1</text>
<text x="92.9" y="588.1" font-family="'DejaVu Sans', sans-serif" font-size="4.5" font-weight="400" fill="#6a6e78" text-anchor="middle" stroke="#6a6e78" stroke-width="0.12">(n=243)</text>
<text x="136.3" y="582.4" font-family="'DejaVu Sans', sans-serif" font-size="4.5" font-weight="400" fill="#6a6e78" text-anchor="middle" stroke="#6a6e78" stroke-width="0.12">Stage2</text>
<text x="136.3" y="588.1" font-family="'DejaVu Sans', sans-serif" font-size="4.5" font-weight="400" fill="#6a6e78" text-anchor="middle" stroke="#6a6e78" stroke-width="0.12">(n=137)</text>
<text x="180.3" y="582.4" font-family="'DejaVu Sans', sans-serif" font-size="4.5" font-weight="400" fill="#6a6e78" text-anchor="middle" stroke="#6a6e78" stroke-width="0.12">Stage3</text>
<text x="180.3" y="588.1" font-family="'DejaVu Sans', sans-serif" font-size="4.5" font-weight="400" fill="#6a6e78" text-anchor="middle" stroke="#6a6e78" stroke-width="0.12">(n=85)</text>
<text x="224.7" y="582.4" font-family="'DejaVu Sans', sans-serif" font-size="4.5" font-weight="400" fill="#6a6e78" text-anchor="middle" stroke="#6a6e78" stroke-width="0.12">Stage4</text>
<text x="224.7" y="588.1" font-family="'DejaVu Sans', sans-serif" font-size="4.5" font-weight="400" fill="#6a6e78" text-anchor="middle" stroke="#6a6e78" stroke-width="0.12">(n=7)</text>
<text x="136.5" y="599" font-family="'Liberation Sans', sans-serif" font-size="6.2" font-weight="700" fill="#111" text-anchor="middle" stroke="#111" stroke-width="0.1">TCGA samples</text>
<text x="263.5" y="425" font-family="'DejaVu Sans', sans-serif" font-size="7.35" font-weight="400" fill="#1e1e1e" text-anchor="start" stroke="#1e1e1e" stroke-width="0.18">Expression of FERMT2 in LUSC based on individual cancer</text>
<text x="370.2" y="433.6" font-family="'DejaVu Sans', sans-serif" font-size="7.35" font-weight="400" fill="#1e1e1e" text-anchor="middle" stroke="#1e1e1e" stroke-width="0.18">stages</text>
<line x1="273.5" y1="446.7" x2="273.5" y2="574.5" stroke="#8a8a8a" stroke-width="1.1"/>
<line x1="269.5" y1="574.5" x2="493" y2="574.5" stroke="#8a8a8a" stroke-width="1.1"/>
<line x1="269.5" y1="446.7" x2="273.5" y2="446.7" stroke="#8a8a8a" stroke-width="0.9"/>
<text x="268.1" y="448.75" font-family="'DejaVu Sans', sans-serif" font-size="5.7" font-weight="400" fill="#808080" text-anchor="end">125</text>
<line x1="269.5" y1="472.2" x2="273.5" y2="472.2" stroke="#8a8a8a" stroke-width="0.9"/>
<text x="268.1" y="474.25" font-family="'DejaVu Sans', sans-serif" font-size="5.7" font-weight="400" fill="#808080" text-anchor="end">100</text>
<line x1="269.5" y1="497.5" x2="273.5" y2="497.5" stroke="#8a8a8a" stroke-width="0.9"/>
<text x="268.1" y="499.55" font-family="'DejaVu Sans', sans-serif" font-size="5.7" font-weight="400" fill="#808080" text-anchor="end">75</text>
<line x1="269.5" y1="523.7" x2="273.5" y2="523.7" stroke="#8a8a8a" stroke-width="0.9"/>
<text x="268.1" y="525.75" font-family="'DejaVu Sans', sans-serif" font-size="5.7" font-weight="400" fill="#808080" text-anchor="end">50</text>
<line x1="269.5" y1="549.2" x2="273.5" y2="549.2" stroke="#8a8a8a" stroke-width="0.9"/>
<text x="268.1" y="551.25" font-family="'DejaVu Sans', sans-serif" font-size="5.7" font-weight="400" fill="#808080" text-anchor="end">25</text>
<line x1="269.5" y1="574.5" x2="273.5" y2="574.5" stroke="#8a8a8a" stroke-width="0.9"/>
<text x="268.1" y="576.55" font-family="'DejaVu Sans', sans-serif" font-size="5.7" font-weight="400" fill="#808080" text-anchor="end">0</text>
<text x="252.5" y="510.6" font-family="'Liberation Sans', sans-serif" font-size="6.2" font-weight="700" fill="#1a1a1a" text-anchor="middle" transform="rotate(-90 252.5 510.6)" stroke="#1a1a1a" stroke-width="0.15">Transcript per million</text>
<line x1="295.5" y1="460" x2="295.5" y2="497" stroke="#aaa" stroke-width="0.9"/>
<line x1="295.5" y1="460" x2="295.5" y2="497" stroke="#222" stroke-width="0.9" stroke-dasharray="1.3,1.2"/>
<line x1="295.5" y1="527.5" x2="295.5" y2="547.2" stroke="#aaa" stroke-width="0.9"/>
<line x1="295.5" y1="527.5" x2="295.5" y2="547.2" stroke="#222" stroke-width="0.9" stroke-dasharray="1.3,1.2"/>
<line x1="289.9" y1="460" x2="301.1" y2="460" stroke="#333" stroke-width="1"/>
<line x1="289.9" y1="547.2" x2="301.1" y2="547.2" stroke="#333" stroke-width="1"/>
<rect x="284.4" y="497" width="22.2" height="30.5" fill="#546adf"/>
<line x1="284.4" y1="514.3" x2="306.6" y2="514.3" stroke="#26318f" stroke-width="1.35"/>
<line x1="339.3" y1="535" x2="339.3" y2="554.2" stroke="#aaa" stroke-width="0.9"/>
<line x1="339.3" y1="535" x2="339.3" y2="554.2" stroke="#222" stroke-width="0.9" stroke-dasharray="1.3,1.2"/>
<line x1="339.3" y1="566.7" x2="339.3" y2="573.7" stroke="#aaa" stroke-width="0.9"/>
<line x1="339.3" y1="566.7" x2="339.3" y2="573.7" stroke="#222" stroke-width="0.9" stroke-dasharray="1.3,1.2"/>
<line x1="333.7" y1="535" x2="344.9" y2="535" stroke="#333" stroke-width="1"/>
<line x1="333.7" y1="573.7" x2="344.9" y2="573.7" stroke="#333" stroke-width="1"/>
<rect x="328.2" y="554.2" width="22.2" height="12.5" fill="#ee8a22"/>
<line x1="328.2" y1="562.2" x2="350.4" y2="562.2" stroke="#843a0e" stroke-width="1.35"/>
<line x1="383.1" y1="532.4" x2="383.1" y2="554.7" stroke="#aaa" stroke-width="0.9"/>
<line x1="383.1" y1="532.4" x2="383.1" y2="554.7" stroke="#222" stroke-width="0.9" stroke-dasharray="1.3,1.2"/>
<line x1="383.1" y1="567.6" x2="383.1" y2="572.4" stroke="#aaa" stroke-width="0.9"/>
<line x1="383.1" y1="567.6" x2="383.1" y2="572.4" stroke="#222" stroke-width="0.9" stroke-dasharray="1.3,1.2"/>
<line x1="377.5" y1="532.4" x2="388.7" y2="532.4" stroke="#333" stroke-width="1"/>
<line x1="377.5" y1="572.4" x2="388.7" y2="572.4" stroke="#333" stroke-width="1"/>
<rect x="372" y="554.7" width="22.2" height="12.9" fill="#b07232"/>
<line x1="372" y1="562" x2="394.2" y2="562" stroke="#5a2c10" stroke-width="1.35"/>
<line x1="426.9" y1="538.7" x2="426.9" y2="553.2" stroke="#aaa" stroke-width="0.9"/>
<line x1="426.9" y1="538.7" x2="426.9" y2="553.2" stroke="#222" stroke-width="0.9" stroke-dasharray="1.3,1.2"/>
<line x1="426.9" y1="566.9" x2="426.9" y2="572" stroke="#aaa" stroke-width="0.9"/>
<line x1="426.9" y1="566.9" x2="426.9" y2="572" stroke="#222" stroke-width="0.9" stroke-dasharray="1.3,1.2"/>
<line x1="421.3" y1="538.7" x2="432.5" y2="538.7" stroke="#333" stroke-width="1"/>
<line x1="421.3" y1="572" x2="432.5" y2="572" stroke="#333" stroke-width="1"/>
<rect x="415.8" y="553.2" width="22.2" height="13.7" fill="#b2d518"/>
<line x1="415.8" y1="558.6" x2="438" y2="558.6" stroke="#4a5a12" stroke-width="1.35"/>
<line x1="471.1" y1="548.4" x2="471.1" y2="555.2" stroke="#aaa" stroke-width="0.9"/>
<line x1="471.1" y1="548.4" x2="471.1" y2="555.2" stroke="#222" stroke-width="0.9" stroke-dasharray="1.3,1.2"/>
<line x1="471.1" y1="558.1" x2="471.1" y2="561.2" stroke="#aaa" stroke-width="0.9"/>
<line x1="471.1" y1="558.1" x2="471.1" y2="561.2" stroke="#222" stroke-width="0.9" stroke-dasharray="1.3,1.2"/>
<line x1="465.5" y1="548.4" x2="476.7" y2="548.4" stroke="#333" stroke-width="1"/>
<line x1="465.5" y1="561.2" x2="476.7" y2="561.2" stroke="#333" stroke-width="1"/>
<rect x="460" y="555.2" width="22.2" height="2.9" fill="#f0380c"/>
<line x1="460" y1="556.6" x2="482.2" y2="556.6" stroke="#8a1e08" stroke-width="1.35"/>
<line x1="303.8" y1="443.3" x2="347.7" y2="443.3" stroke="#333" stroke-width="1.05"/>
<text transform="translate(326.2 439) scale(1 1.12)" x="0" y="5.4" font-family="DejaVu Sans, sans-serif" font-size="9.4" font-weight="700" fill="#5a5a5a" text-anchor="middle" letter-spacing="0.8">***</text>
<line x1="303.8" y1="450.8" x2="391.7" y2="450.8" stroke="#333" stroke-width="1.05"/>
<text transform="translate(350.7 447) scale(1 1.12)" x="0" y="5.4" font-family="DejaVu Sans, sans-serif" font-size="9.4" font-weight="700" fill="#5a5a5a" text-anchor="middle" letter-spacing="0.8">***</text>
<line x1="303.8" y1="458.7" x2="435.5" y2="458.7" stroke="#333" stroke-width="1.05"/>
<text transform="translate(373.7 454.9) scale(1 1.12)" x="0" y="5.4" font-family="DejaVu Sans, sans-serif" font-size="9.4" font-weight="700" fill="#5a5a5a" text-anchor="middle" letter-spacing="0.8">***</text>
<line x1="303.8" y1="466.3" x2="481.4" y2="466.3" stroke="#333" stroke-width="1.05"/>
<text transform="translate(405.2 462.5) scale(1 1.12)" x="0" y="5.4" font-family="DejaVu Sans, sans-serif" font-size="9.4" font-weight="700" fill="#5a5a5a" text-anchor="middle" letter-spacing="0.8">***</text>
<text x="295.5" y="582.4" font-family="'DejaVu Sans', sans-serif" font-size="4.5" font-weight="400" fill="#6a6e78" text-anchor="middle" stroke="#6a6e78" stroke-width="0.12">Normal</text>
<text x="295.5" y="588.1" font-family="'DejaVu Sans', sans-serif" font-size="4.5" font-weight="400" fill="#6a6e78" text-anchor="middle" stroke="#6a6e78" stroke-width="0.12">(n=52)</text>
<text x="339.3" y="582.4" font-family="'DejaVu Sans', sans-serif" font-size="4.5" font-weight="400" fill="#6a6e78" text-anchor="middle" stroke="#6a6e78" stroke-width="0.12">Stage1</text>
<text x="339.3" y="588.1" font-family="'DejaVu Sans', sans-serif" font-size="4.5" font-weight="400" fill="#6a6e78" text-anchor="middle" stroke="#6a6e78" stroke-width="0.12">(n=243)</text>
<text x="383.1" y="582.4" font-family="'DejaVu Sans', sans-serif" font-size="4.5" font-weight="400" fill="#6a6e78" text-anchor="middle" stroke="#6a6e78" stroke-width="0.12">Stage2</text>
<text x="383.1" y="588.1" font-family="'DejaVu Sans', sans-serif" font-size="4.5" font-weight="400" fill="#6a6e78" text-anchor="middle" stroke="#6a6e78" stroke-width="0.12">(n=137)</text>
<text x="426.9" y="582.4" font-family="'DejaVu Sans', sans-serif" font-size="4.5" font-weight="400" fill="#6a6e78" text-anchor="middle" stroke="#6a6e78" stroke-width="0.12">Stage3</text>
<text x="426.9" y="588.1" font-family="'DejaVu Sans', sans-serif" font-size="4.5" font-weight="400" fill="#6a6e78" text-anchor="middle" stroke="#6a6e78" stroke-width="0.12">(n=85)</text>
<text x="471.1" y="582.4" font-family="'DejaVu Sans', sans-serif" font-size="4.5" font-weight="400" fill="#6a6e78" text-anchor="middle" stroke="#6a6e78" stroke-width="0.12">Stage4</text>
<text x="471.1" y="588.1" font-family="'DejaVu Sans', sans-serif" font-size="4.5" font-weight="400" fill="#6a6e78" text-anchor="middle" stroke="#6a6e78" stroke-width="0.12">(n=7)</text>
<text x="383" y="599" font-family="'Liberation Sans', sans-serif" font-size="6.2" font-weight="700" fill="#111" text-anchor="middle" stroke="#111" stroke-width="0.1">TCGA samples</text>
<text x="513.2" y="425.5" font-family="'DejaVu Sans', sans-serif" font-size="7.35" font-weight="400" fill="#1e1e1e" text-anchor="start" stroke="#1e1e1e" stroke-width="0.18">Expression of FERMT3 in LUSC based on individual cancer</text>
<text x="619.9" y="434.1" font-family="'DejaVu Sans', sans-serif" font-size="7.35" font-weight="400" fill="#1e1e1e" text-anchor="middle" stroke="#1e1e1e" stroke-width="0.18">stages</text>
<line x1="522.6" y1="447.2" x2="522.6" y2="575.5" stroke="#8a8a8a" stroke-width="1.1"/>
<line x1="518.6" y1="575.5" x2="742.6" y2="575.5" stroke="#8a8a8a" stroke-width="1.1"/>
<line x1="518.6" y1="447.2" x2="522.6" y2="447.2" stroke="#8a8a8a" stroke-width="0.9"/>
<text x="517.2" y="449.25" font-family="'DejaVu Sans', sans-serif" font-size="5.7" font-weight="400" fill="#808080" text-anchor="end">100</text>
<line x1="518.6" y1="472.8" x2="522.6" y2="472.8" stroke="#8a8a8a" stroke-width="0.9"/>
<text x="517.2" y="474.85" font-family="'DejaVu Sans', sans-serif" font-size="5.7" font-weight="400" fill="#808080" text-anchor="end">80</text>
<line x1="518.6" y1="498.5" x2="522.6" y2="498.5" stroke="#8a8a8a" stroke-width="0.9"/>
<text x="517.2" y="500.55" font-family="'DejaVu Sans', sans-serif" font-size="5.7" font-weight="400" fill="#808080" text-anchor="end">60</text>
<line x1="518.6" y1="524.2" x2="522.6" y2="524.2" stroke="#8a8a8a" stroke-width="0.9"/>
<text x="517.2" y="526.25" font-family="'DejaVu Sans', sans-serif" font-size="5.7" font-weight="400" fill="#808080" text-anchor="end">40</text>
<line x1="518.6" y1="550" x2="522.6" y2="550" stroke="#8a8a8a" stroke-width="0.9"/>
<text x="517.2" y="552.05" font-family="'DejaVu Sans', sans-serif" font-size="5.7" font-weight="400" fill="#808080" text-anchor="end">20</text>
<line x1="518.6" y1="575.5" x2="522.6" y2="575.5" stroke="#8a8a8a" stroke-width="0.9"/>
<text x="517.2" y="577.55" font-family="'DejaVu Sans', sans-serif" font-size="5.7" font-weight="400" fill="#808080" text-anchor="end">0</text>
<text x="502.5" y="511.35" font-family="'Liberation Sans', sans-serif" font-size="6.2" font-weight="700" fill="#1a1a1a" text-anchor="middle" transform="rotate(-90 502.5 511.35)" stroke="#1a1a1a" stroke-width="0.15">Transcript per million</text>
<line x1="544.8" y1="469.7" x2="544.8" y2="502.8" stroke="#aaa" stroke-width="0.9"/>
<line x1="544.8" y1="469.7" x2="544.8" y2="502.8" stroke="#222" stroke-width="0.9" stroke-dasharray="1.3,1.2"/>
<line x1="544.8" y1="525.8" x2="544.8" y2="549.7" stroke="#aaa" stroke-width="0.9"/>
<line x1="544.8" y1="525.8" x2="544.8" y2="549.7" stroke="#222" stroke-width="0.9" stroke-dasharray="1.3,1.2"/>
<line x1="539.2" y1="469.7" x2="550.4" y2="469.7" stroke="#333" stroke-width="1"/>
<line x1="539.2" y1="549.7" x2="550.4" y2="549.7" stroke="#333" stroke-width="1"/>
<rect x="533.7" y="502.8" width="22.2" height="23" fill="#546adf"/>
<line x1="533.7" y1="511.7" x2="555.9" y2="511.7" stroke="#26318f" stroke-width="1.35"/>
<line x1="588.8" y1="515.5" x2="588.8" y2="546.3" stroke="#aaa" stroke-width="0.9"/>
<line x1="588.8" y1="515.5" x2="588.8" y2="546.3" stroke="#222" stroke-width="0.9" stroke-dasharray="1.3,1.2"/>
<line x1="588.8" y1="564.5" x2="588.8" y2="573.3" stroke="#aaa" stroke-width="0.9"/>
<line x1="588.8" y1="564.5" x2="588.8" y2="573.3" stroke="#222" stroke-width="0.9" stroke-dasharray="1.3,1.2"/>
<line x1="583.2" y1="515.5" x2="594.4" y2="515.5" stroke="#333" stroke-width="1"/>
<line x1="583.2" y1="573.3" x2="594.4" y2="573.3" stroke="#333" stroke-width="1"/>
<rect x="577.7" y="546.3" width="22.2" height="18.2" fill="#ee8a22"/>
<line x1="577.7" y1="557.2" x2="599.9" y2="557.2" stroke="#843a0e" stroke-width="1.35"/>
<line x1="632.9" y1="518.3" x2="632.9" y2="548.9" stroke="#aaa" stroke-width="0.9"/>
<line x1="632.9" y1="518.3" x2="632.9" y2="548.9" stroke="#222" stroke-width="0.9" stroke-dasharray="1.3,1.2"/>
<line x1="632.9" y1="565.8" x2="632.9" y2="573.4" stroke="#aaa" stroke-width="0.9"/>
<line x1="632.9" y1="565.8" x2="632.9" y2="573.4" stroke="#222" stroke-width="0.9" stroke-dasharray="1.3,1.2"/>
<line x1="627.3" y1="518.3" x2="638.5" y2="518.3" stroke="#333" stroke-width="1"/>
<line x1="627.3" y1="573.4" x2="638.5" y2="573.4" stroke="#333" stroke-width="1"/>
<rect x="621.8" y="548.9" width="22.2" height="16.9" fill="#b07232"/>
<line x1="621.8" y1="557.3" x2="644" y2="557.3" stroke="#5a2c10" stroke-width="1.35"/>
<line x1="676.6" y1="514.4" x2="676.6" y2="546.6" stroke="#aaa" stroke-width="0.9"/>
<line x1="676.6" y1="514.4" x2="676.6" y2="546.6" stroke="#222" stroke-width="0.9" stroke-dasharray="1.3,1.2"/>
<line x1="676.6" y1="566.4" x2="676.6" y2="572.4" stroke="#aaa" stroke-width="0.9"/>
<line x1="676.6" y1="566.4" x2="676.6" y2="572.4" stroke="#222" stroke-width="0.9" stroke-dasharray="1.3,1.2"/>
<line x1="671" y1="514.4" x2="682.2" y2="514.4" stroke="#333" stroke-width="1"/>
<line x1="671" y1="572.4" x2="682.2" y2="572.4" stroke="#333" stroke-width="1"/>
<rect x="665.5" y="546.6" width="22.2" height="19.8" fill="#b2d518"/>
<line x1="665.5" y1="559.5" x2="687.7" y2="559.5" stroke="#4a5a12" stroke-width="1.35"/>
<line x1="721.2" y1="549.2" x2="721.2" y2="555.7" stroke="#aaa" stroke-width="0.9"/>
<line x1="721.2" y1="549.2" x2="721.2" y2="555.7" stroke="#222" stroke-width="0.9" stroke-dasharray="1.3,1.2"/>
<line x1="721.2" y1="563.3" x2="721.2" y2="568.1" stroke="#aaa" stroke-width="0.9"/>
<line x1="721.2" y1="563.3" x2="721.2" y2="568.1" stroke="#222" stroke-width="0.9" stroke-dasharray="1.3,1.2"/>
<line x1="715.6" y1="549.2" x2="726.8" y2="549.2" stroke="#333" stroke-width="1"/>
<line x1="715.6" y1="568.1" x2="726.8" y2="568.1" stroke="#333" stroke-width="1"/>
<rect x="710.1" y="555.7" width="22.2" height="7.6" fill="#f0380c"/>
<line x1="710.1" y1="560.4" x2="732.3" y2="560.4" stroke="#8a1e08" stroke-width="1.35"/>
<line x1="543.5" y1="443.3" x2="587.3" y2="443.3" stroke="#333" stroke-width="1.05"/>
<text transform="translate(565.9 439) scale(1 1.12)" x="0" y="5.4" font-family="DejaVu Sans, sans-serif" font-size="9.4" font-weight="700" fill="#5a5a5a" text-anchor="middle" letter-spacing="0.8">***</text>
<line x1="543.5" y1="451" x2="631.7" y2="451" stroke="#333" stroke-width="1.05"/>
<text transform="translate(590.4 447.2) scale(1 1.12)" x="0" y="5.4" font-family="DejaVu Sans, sans-serif" font-size="9.4" font-weight="700" fill="#5a5a5a" text-anchor="middle" letter-spacing="0.8">***</text>
<line x1="543.5" y1="458.7" x2="675.2" y2="458.7" stroke="#333" stroke-width="1.05"/>
<text transform="translate(613.4 454.9) scale(1 1.12)" x="0" y="5.4" font-family="DejaVu Sans, sans-serif" font-size="9.4" font-weight="700" fill="#5a5a5a" text-anchor="middle" letter-spacing="0.8">***</text>
<line x1="543.5" y1="466.3" x2="721.5" y2="466.3" stroke="#333" stroke-width="1.05"/>
<text transform="translate(644.9 462.5) scale(1 1.12)" x="0" y="5.4" font-family="DejaVu Sans, sans-serif" font-size="9.4" font-weight="700" fill="#5a5a5a" text-anchor="middle" letter-spacing="0.8">***</text>
<text x="544.8" y="582.9" font-family="'DejaVu Sans', sans-serif" font-size="4.5" font-weight="400" fill="#6a6e78" text-anchor="middle" stroke="#6a6e78" stroke-width="0.12">Normal</text>
<text x="544.8" y="588.6" font-family="'DejaVu Sans', sans-serif" font-size="4.5" font-weight="400" fill="#6a6e78" text-anchor="middle" stroke="#6a6e78" stroke-width="0.12">(n=52)</text>
<text x="588.8" y="582.9" font-family="'DejaVu Sans', sans-serif" font-size="4.5" font-weight="400" fill="#6a6e78" text-anchor="middle" stroke="#6a6e78" stroke-width="0.12">Stage1</text>
<text x="588.8" y="588.6" font-family="'DejaVu Sans', sans-serif" font-size="4.5" font-weight="400" fill="#6a6e78" text-anchor="middle" stroke="#6a6e78" stroke-width="0.12">(n=243)</text>
<text x="632.9" y="582.9" font-family="'DejaVu Sans', sans-serif" font-size="4.5" font-weight="400" fill="#6a6e78" text-anchor="middle" stroke="#6a6e78" stroke-width="0.12">Stage2</text>
<text x="632.9" y="588.6" font-family="'DejaVu Sans', sans-serif" font-size="4.5" font-weight="400" fill="#6a6e78" text-anchor="middle" stroke="#6a6e78" stroke-width="0.12">(n=137)</text>
<text x="676.6" y="582.9" font-family="'DejaVu Sans', sans-serif" font-size="4.5" font-weight="400" fill="#6a6e78" text-anchor="middle" stroke="#6a6e78" stroke-width="0.12">Stage3</text>
<text x="676.6" y="588.6" font-family="'DejaVu Sans', sans-serif" font-size="4.5" font-weight="400" fill="#6a6e78" text-anchor="middle" stroke="#6a6e78" stroke-width="0.12">(n=85)</text>
<text x="721.2" y="582.9" font-family="'DejaVu Sans', sans-serif" font-size="4.5" font-weight="400" fill="#6a6e78" text-anchor="middle" stroke="#6a6e78" stroke-width="0.12">Stage4</text>
<text x="721.2" y="588.6" font-family="'DejaVu Sans', sans-serif" font-size="4.5" font-weight="400" fill="#6a6e78" text-anchor="middle" stroke="#6a6e78" stroke-width="0.12">(n=7)</text>
<text x="633" y="599.5" font-family="'Liberation Sans', sans-serif" font-size="6.2" font-weight="700" fill="#111" text-anchor="middle" stroke="#111" stroke-width="0.1">TCGA samples</text>
<text x="18" y="624" font-family="'DejaVu Sans', sans-serif" font-size="7.35" font-weight="400" fill="#3c3c3c" text-anchor="start" stroke="#3c3c3c" stroke-width="0.18">Expression of FERMT1 in LUAD based on nodal metastasis</text>
<text x="124.7" y="632.6" font-family="'DejaVu Sans', sans-serif" font-size="7.35" font-weight="400" fill="#3c3c3c" text-anchor="middle" stroke="#3c3c3c" stroke-width="0.18">status</text>
<line x1="26.3" y1="645.5" x2="26.3" y2="772.5" stroke="#8a8a8a" stroke-width="1.1"/>
<line x1="22.3" y1="772.5" x2="245.3" y2="772.5" stroke="#8a8a8a" stroke-width="1.1"/>
<line x1="22.3" y1="645.5" x2="26.3" y2="645.5" stroke="#8a8a8a" stroke-width="0.9"/>
<text x="19.7" y="647.1" font-family="'DejaVu Sans', sans-serif" font-size="4.4" font-weight="400" fill="#6e6e6e" text-anchor="end">40</text>
<line x1="22.3" y1="677.2" x2="26.3" y2="677.2" stroke="#8a8a8a" stroke-width="0.9"/>
<text x="19.7" y="678.8" font-family="'DejaVu Sans', sans-serif" font-size="4.4" font-weight="400" fill="#6e6e6e" text-anchor="end">30</text>
<line x1="22.3" y1="709.2" x2="26.3" y2="709.2" stroke="#8a8a8a" stroke-width="0.9"/>
<text x="19.7" y="710.8" font-family="'DejaVu Sans', sans-serif" font-size="4.4" font-weight="400" fill="#6e6e6e" text-anchor="end">20</text>
<line x1="22.3" y1="740.5" x2="26.3" y2="740.5" stroke="#8a8a8a" stroke-width="0.9"/>
<text x="19.7" y="742.1" font-family="'DejaVu Sans', sans-serif" font-size="4.4" font-weight="400" fill="#6e6e6e" text-anchor="end">10</text>
<line x1="22.3" y1="772.5" x2="26.3" y2="772.5" stroke="#8a8a8a" stroke-width="0.9"/>
<text x="19.7" y="774.1" font-family="'DejaVu Sans', sans-serif" font-size="4.4" font-weight="400" fill="#6e6e6e" text-anchor="end">0</text>
<text x="8.6" y="709" font-family="'DejaVu Sans', sans-serif" font-size="5.2" font-weight="400" fill="#7a7a7a" text-anchor="middle" transform="rotate(-90 8.6 709)">Transcript per million</text>
<line x1="48.3" y1="765.8" x2="48.3" y2="768.3" stroke="#c8c8c8" stroke-width="0.85"/>
<line x1="48.3" y1="765.8" x2="48.3" y2="768.3" stroke="#777" stroke-width="0.75" stroke-dasharray="1.1,1.0"/>
<line x1="48.3" y1="770.5" x2="48.3" y2="772" stroke="#c8c8c8" stroke-width="0.85"/>
<line x1="48.3" y1="770.5" x2="48.3" y2="772" stroke="#777" stroke-width="0.75" stroke-dasharray="1.1,1.0"/>
<line x1="42.7" y1="765.8" x2="53.9" y2="765.8" stroke="#8a8a8a" stroke-width="1"/>
<line x1="42.7" y1="772" x2="53.9" y2="772" stroke="#8a8a8a" stroke-width="1"/>
<rect x="37.2" y="768.3" width="22.2" height="2.2" fill="#546adf"/>
<line x1="37.2" y1="769.4" x2="59.4" y2="769.4" stroke="#26318f" stroke-width="1.35"/>
<line x1="93.3" y1="667.5" x2="93.3" y2="726.7" stroke="#c8c8c8" stroke-width="0.85"/>
<line x1="93.3" y1="667.5" x2="93.3" y2="726.7" stroke="#777" stroke-width="0.75" stroke-dasharray="1.1,1.0"/>
<line x1="93.3" y1="758.7" x2="93.3" y2="772" stroke="#c8c8c8" stroke-width="0.85"/>
<line x1="93.3" y1="758.7" x2="93.3" y2="772" stroke="#777" stroke-width="0.75" stroke-dasharray="1.1,1.0"/>
<line x1="87.7" y1="667.5" x2="98.9" y2="667.5" stroke="#8a8a8a" stroke-width="1"/>
<line x1="87.7" y1="772" x2="98.9" y2="772" stroke="#8a8a8a" stroke-width="1"/>
<rect x="82.2" y="726.7" width="22.2" height="32" fill="#ee8a22"/>
<line x1="82.2" y1="747.2" x2="104.4" y2="747.2" stroke="#843a0e" stroke-width="1.35"/>
<line x1="137.3" y1="701.3" x2="137.3" y2="738" stroke="#c8c8c8" stroke-width="0.85"/>
<line x1="137.3" y1="701.3" x2="137.3" y2="738" stroke="#777" stroke-width="0.75" stroke-dasharray="1.1,1.0"/>
<line x1="137.3" y1="758.3" x2="137.3" y2="771.8" stroke="#c8c8c8" stroke-width="0.85"/>
<line x1="137.3" y1="758.3" x2="137.3" y2="771.8" stroke="#777" stroke-width="0.75" stroke-dasharray="1.1,1.0"/>
<line x1="131.7" y1="701.3" x2="142.9" y2="701.3" stroke="#8a8a8a" stroke-width="1"/>
<line x1="131.7" y1="771.8" x2="142.9" y2="771.8" stroke="#8a8a8a" stroke-width="1"/>
<rect x="126.2" y="738" width="22.2" height="20.3" fill="#b07232"/>
<line x1="126.2" y1="749.3" x2="148.4" y2="749.3" stroke="#5a2c10" stroke-width="1.35"/>
<line x1="182.1" y1="688.4" x2="182.1" y2="730.7" stroke="#c8c8c8" stroke-width="0.85"/>
<line x1="182.1" y1="688.4" x2="182.1" y2="730.7" stroke="#777" stroke-width="0.75" stroke-dasharray="1.1,1.0"/>
<line x1="182.1" y1="751.1" x2="182.1" y2="771.8" stroke="#c8c8c8" stroke-width="0.85"/>
<line x1="182.1" y1="751.1" x2="182.1" y2="771.8" stroke="#777" stroke-width="0.75" stroke-dasharray="1.1,1.0"/>
<line x1="176.5" y1="688.4" x2="187.7" y2="688.4" stroke="#8a8a8a" stroke-width="1"/>
<line x1="176.5" y1="771.8" x2="187.7" y2="771.8" stroke="#8a8a8a" stroke-width="1"/>
<rect x="171" y="730.7" width="22.2" height="20.4" fill="#b2d518"/>
<line x1="171" y1="743.5" x2="193.2" y2="743.5" stroke="#4a5a12" stroke-width="1.35"/>
<line x1="226.9" y1="752" x2="226.9" y2="755.6" stroke="#c8c8c8" stroke-width="0.85"/>
<line x1="226.9" y1="752" x2="226.9" y2="755.6" stroke="#777" stroke-width="0.75" stroke-dasharray="1.1,1.0"/>
<line x1="226.9" y1="763.4" x2="226.9" y2="767.1" stroke="#c8c8c8" stroke-width="0.85"/>
<line x1="226.9" y1="763.4" x2="226.9" y2="767.1" stroke="#777" stroke-width="0.75" stroke-dasharray="1.1,1.0"/>
<line x1="221.3" y1="752" x2="232.5" y2="752" stroke="#8a8a8a" stroke-width="1"/>
<line x1="221.3" y1="767.1" x2="232.5" y2="767.1" stroke="#8a8a8a" stroke-width="1"/>
<rect x="215.8" y="755.6" width="22.2" height="7.8" fill="#f0380c"/>
<line x1="215.8" y1="759.4" x2="238" y2="759.4" stroke="#8a1e08" stroke-width="1.35"/>
<line x1="48.8" y1="650.3" x2="92.8" y2="650.3" stroke="#333" stroke-width="1.05"/>
<text transform="translate(71.2 646) scale(1 1.12)" x="0" y="5.4" font-family="DejaVu Sans, sans-serif" font-size="9.4" font-weight="700" fill="#5a5a5a" text-anchor="middle" letter-spacing="0.8">***</text>
<line x1="48.8" y1="658" x2="136.7" y2="658" stroke="#333" stroke-width="1.05"/>
<text transform="translate(95.7 654.2) scale(1 1.12)" x="0" y="5.4" font-family="DejaVu Sans, sans-serif" font-size="9.4" font-weight="700" fill="#5a5a5a" text-anchor="middle" letter-spacing="0.8">***</text>
<line x1="48.8" y1="665.8" x2="180.6" y2="665.8" stroke="#333" stroke-width="1.05"/>
<text transform="translate(118.7 662) scale(1 1.12)" x="0" y="5.4" font-family="DejaVu Sans, sans-serif" font-size="9.4" font-weight="700" fill="#5a5a5a" text-anchor="middle" letter-spacing="0.8">***</text>
<text x="48.3" y="780.9" font-family="'DejaVu Sans', sans-serif" font-size="4.5" font-weight="400" fill="#6a6e78" text-anchor="middle" stroke="#6a6e78" stroke-width="0.12">Normal</text>
<text x="48.3" y="786.6" font-family="'DejaVu Sans', sans-serif" font-size="4.5" font-weight="400" fill="#6a6e78" text-anchor="middle" stroke="#6a6e78" stroke-width="0.12">(n=59)</text>
<text x="93.3" y="780.9" font-family="'DejaVu Sans', sans-serif" font-size="4.5" font-weight="400" fill="#6a6e78" text-anchor="middle" stroke="#6a6e78" stroke-width="0.12">N0</text>
<text x="93.3" y="786.6" font-family="'DejaVu Sans', sans-serif" font-size="4.5" font-weight="400" fill="#6a6e78" text-anchor="middle" stroke="#6a6e78" stroke-width="0.12">(n=331)</text>
<text x="137.3" y="780.9" font-family="'DejaVu Sans', sans-serif" font-size="4.5" font-weight="400" fill="#6a6e78" text-anchor="middle" stroke="#6a6e78" stroke-width="0.12">N1</text>
<text x="137.3" y="786.6" font-family="'DejaVu Sans', sans-serif" font-size="4.5" font-weight="400" fill="#6a6e78" text-anchor="middle" stroke="#6a6e78" stroke-width="0.12">(n=96)</text>
<text x="182.1" y="780.9" font-family="'DejaVu Sans', sans-serif" font-size="4.5" font-weight="400" fill="#6a6e78" text-anchor="middle" stroke="#6a6e78" stroke-width="0.12">N2</text>
<text x="182.1" y="786.6" font-family="'DejaVu Sans', sans-serif" font-size="4.5" font-weight="400" fill="#6a6e78" text-anchor="middle" stroke="#6a6e78" stroke-width="0.12">(n=74)</text>
<text x="226.9" y="780.9" font-family="'DejaVu Sans', sans-serif" font-size="4.5" font-weight="400" fill="#6a6e78" text-anchor="middle" stroke="#6a6e78" stroke-width="0.12">N3</text>
<text x="226.9" y="786.6" font-family="'DejaVu Sans', sans-serif" font-size="4.5" font-weight="400" fill="#6a6e78" text-anchor="middle" stroke="#6a6e78" stroke-width="0.12">(n=2)</text>
<text x="137.3" y="796.3" font-family="'DejaVu Sans', sans-serif" font-size="5" font-weight="400" fill="#6a6a6a" text-anchor="middle">TCGA samples</text>
<text x="266" y="624" font-family="'DejaVu Sans', sans-serif" font-size="7.35" font-weight="400" fill="#3c3c3c" text-anchor="start" stroke="#3c3c3c" stroke-width="0.18">Expression of FERMT2 in LUAD based on nodal metastasis</text>
<text x="372.7" y="632.6" font-family="'DejaVu Sans', sans-serif" font-size="7.35" font-weight="400" fill="#3c3c3c" text-anchor="middle" stroke="#3c3c3c" stroke-width="0.18">status</text>
<line x1="276.5" y1="645" x2="276.5" y2="772.5" stroke="#8a8a8a" stroke-width="1.1"/>
<line x1="272.5" y1="772.5" x2="490.4" y2="772.5" stroke="#8a8a8a" stroke-width="1.1"/>
<line x1="272.5" y1="645" x2="276.5" y2="645" stroke="#8a8a8a" stroke-width="0.9"/>
<text x="269.9" y="646.6" font-family="'DejaVu Sans', sans-serif" font-size="4.4" font-weight="400" fill="#6e6e6e" text-anchor="end">125</text>
<line x1="272.5" y1="671.3" x2="276.5" y2="671.3" stroke="#8a8a8a" stroke-width="0.9"/>
<text x="269.9" y="672.9" font-family="'DejaVu Sans', sans-serif" font-size="4.4" font-weight="400" fill="#6e6e6e" text-anchor="end">100</text>
<line x1="272.5" y1="696.3" x2="276.5" y2="696.3" stroke="#8a8a8a" stroke-width="0.9"/>
<text x="269.9" y="697.9" font-family="'DejaVu Sans', sans-serif" font-size="4.4" font-weight="400" fill="#6e6e6e" text-anchor="end">75</text>
<line x1="272.5" y1="721.7" x2="276.5" y2="721.7" stroke="#8a8a8a" stroke-width="0.9"/>
<text x="269.9" y="723.3" font-family="'DejaVu Sans', sans-serif" font-size="4.4" font-weight="400" fill="#6e6e6e" text-anchor="end">50</text>
<line x1="272.5" y1="747.5" x2="276.5" y2="747.5" stroke="#8a8a8a" stroke-width="0.9"/>
<text x="269.9" y="749.1" font-family="'DejaVu Sans', sans-serif" font-size="4.4" font-weight="400" fill="#6e6e6e" text-anchor="end">25</text>
<line x1="272.5" y1="772.5" x2="276.5" y2="772.5" stroke="#8a8a8a" stroke-width="0.9"/>
<text x="269.9" y="774.1" font-family="'DejaVu Sans', sans-serif" font-size="4.4" font-weight="400" fill="#6e6e6e" text-anchor="end">0</text>
<text x="255.5" y="708.75" font-family="'DejaVu Sans', sans-serif" font-size="5.2" font-weight="400" fill="#7a7a7a" text-anchor="middle" transform="rotate(-90 255.5 708.75)">Transcript per million</text>
<line x1="298.8" y1="675" x2="298.8" y2="700.3" stroke="#c8c8c8" stroke-width="0.85"/>
<line x1="298.8" y1="675" x2="298.8" y2="700.3" stroke="#777" stroke-width="0.75" stroke-dasharray="1.1,1.0"/>
<line x1="298.8" y1="725.8" x2="298.8" y2="751.3" stroke="#c8c8c8" stroke-width="0.85"/>
<line x1="298.8" y1="725.8" x2="298.8" y2="751.3" stroke="#777" stroke-width="0.75" stroke-dasharray="1.1,1.0"/>
<line x1="293.2" y1="675" x2="304.4" y2="675" stroke="#8a8a8a" stroke-width="1"/>
<line x1="293.2" y1="751.3" x2="304.4" y2="751.3" stroke="#8a8a8a" stroke-width="1"/>
<rect x="287.7" y="700.3" width="22.2" height="25.5" fill="#546adf"/>
<line x1="287.7" y1="712.2" x2="309.9" y2="712.2" stroke="#26318f" stroke-width="1.35"/>
<line x1="342.7" y1="721.7" x2="342.7" y2="743.3" stroke="#c8c8c8" stroke-width="0.85"/>
<line x1="342.7" y1="721.7" x2="342.7" y2="743.3" stroke="#777" stroke-width="0.75" stroke-dasharray="1.1,1.0"/>
<line x1="342.7" y1="757.5" x2="342.7" y2="769.5" stroke="#c8c8c8" stroke-width="0.85"/>
<line x1="342.7" y1="757.5" x2="342.7" y2="769.5" stroke="#777" stroke-width="0.75" stroke-dasharray="1.1,1.0"/>
<line x1="337.1" y1="721.7" x2="348.3" y2="721.7" stroke="#8a8a8a" stroke-width="1"/>
<line x1="337.1" y1="769.5" x2="348.3" y2="769.5" stroke="#8a8a8a" stroke-width="1"/>
<rect x="331.6" y="743.3" width="22.2" height="14.2" fill="#ee8a22"/>
<line x1="331.6" y1="752.2" x2="353.8" y2="752.2" stroke="#843a0e" stroke-width="1.35"/>
<line x1="386.5" y1="719.9" x2="386.5" y2="743.5" stroke="#c8c8c8" stroke-width="0.85"/>
<line x1="386.5" y1="719.9" x2="386.5" y2="743.5" stroke="#777" stroke-width="0.75" stroke-dasharray="1.1,1.0"/>
<line x1="386.5" y1="759.3" x2="386.5" y2="768.9" stroke="#c8c8c8" stroke-width="0.85"/>
<line x1="386.5" y1="759.3" x2="386.5" y2="768.9" stroke="#777" stroke-width="0.75" stroke-dasharray="1.1,1.0"/>
<line x1="380.9" y1="719.9" x2="392.1" y2="719.9" stroke="#8a8a8a" stroke-width="1"/>
<line x1="380.9" y1="768.9" x2="392.1" y2="768.9" stroke="#8a8a8a" stroke-width="1"/>
<rect x="375.4" y="743.5" width="22.2" height="15.8" fill="#b07232"/>
<line x1="375.4" y1="751.1" x2="397.6" y2="751.1" stroke="#5a2c10" stroke-width="1.35"/>
<line x1="430.5" y1="724.4" x2="430.5" y2="745.3" stroke="#c8c8c8" stroke-width="0.85"/>
<line x1="430.5" y1="724.4" x2="430.5" y2="745.3" stroke="#777" stroke-width="0.75" stroke-dasharray="1.1,1.0"/>
<line x1="430.5" y1="757.6" x2="430.5" y2="769.8" stroke="#c8c8c8" stroke-width="0.85"/>
<line x1="430.5" y1="757.6" x2="430.5" y2="769.8" stroke="#777" stroke-width="0.75" stroke-dasharray="1.1,1.0"/>
<line x1="424.9" y1="724.4" x2="436.1" y2="724.4" stroke="#8a8a8a" stroke-width="1"/>
<line x1="424.9" y1="769.8" x2="436.1" y2="769.8" stroke="#8a8a8a" stroke-width="1"/>
<rect x="419.4" y="745.3" width="22.2" height="12.3" fill="#b2d518"/>
<line x1="419.4" y1="753.1" x2="441.6" y2="753.1" stroke="#4a5a12" stroke-width="1.35"/>
<rect x="463.6" y="743.1" width="22.2" height="1.4" fill="#f0380c"/>
<line x1="463.6" y1="743.8" x2="485.8" y2="743.8" stroke="#8a1e08" stroke-width="1.35"/>
<line x1="299.3" y1="644.2" x2="342.7" y2="644.2" stroke="#333" stroke-width="1.05"/>
<text transform="translate(321.7 639.9) scale(1 1.12)" x="0" y="5.4" font-family="DejaVu Sans, sans-serif" font-size="9.4" font-weight="700" fill="#5a5a5a" text-anchor="middle" letter-spacing="0.8">***</text>
<line x1="299.3" y1="652.3" x2="386.9" y2="652.3" stroke="#333" stroke-width="1.05"/>
<text transform="translate(346.2 648.5) scale(1 1.12)" x="0" y="5.4" font-family="DejaVu Sans, sans-serif" font-size="9.4" font-weight="700" fill="#5a5a5a" text-anchor="middle" letter-spacing="0.8">***</text>
<line x1="299.3" y1="660" x2="430.5" y2="660" stroke="#333" stroke-width="1.05"/>
<text transform="translate(369.2 656.2) scale(1 1.12)" x="0" y="5.4" font-family="DejaVu Sans, sans-serif" font-size="9.4" font-weight="700" fill="#5a5a5a" text-anchor="middle" letter-spacing="0.8">***</text>
<text x="298.8" y="780.9" font-family="'DejaVu Sans', sans-serif" font-size="4.5" font-weight="400" fill="#6a6e78" text-anchor="middle" stroke="#6a6e78" stroke-width="0.12">Normal</text>
<text x="298.8" y="786.6" font-family="'DejaVu Sans', sans-serif" font-size="4.5" font-weight="400" fill="#6a6e78" text-anchor="middle" stroke="#6a6e78" stroke-width="0.12">(n=59)</text>
<text x="342.7" y="780.9" font-family="'DejaVu Sans', sans-serif" font-size="4.5" font-weight="400" fill="#6a6e78" text-anchor="middle" stroke="#6a6e78" stroke-width="0.12">N0</text>
<text x="342.7" y="786.6" font-family="'DejaVu Sans', sans-serif" font-size="4.5" font-weight="400" fill="#6a6e78" text-anchor="middle" stroke="#6a6e78" stroke-width="0.12">(n=331)</text>
<text x="386.5" y="780.9" font-family="'DejaVu Sans', sans-serif" font-size="4.5" font-weight="400" fill="#6a6e78" text-anchor="middle" stroke="#6a6e78" stroke-width="0.12">N1</text>
<text x="386.5" y="786.6" font-family="'DejaVu Sans', sans-serif" font-size="4.5" font-weight="400" fill="#6a6e78" text-anchor="middle" stroke="#6a6e78" stroke-width="0.12">(n=96)</text>
<text x="430.5" y="780.9" font-family="'DejaVu Sans', sans-serif" font-size="4.5" font-weight="400" fill="#6a6e78" text-anchor="middle" stroke="#6a6e78" stroke-width="0.12">N2</text>
<text x="430.5" y="786.6" font-family="'DejaVu Sans', sans-serif" font-size="4.5" font-weight="400" fill="#6a6e78" text-anchor="middle" stroke="#6a6e78" stroke-width="0.12">(n=74)</text>
<text x="474.7" y="780.9" font-family="'DejaVu Sans', sans-serif" font-size="4.5" font-weight="400" fill="#6a6e78" text-anchor="middle" stroke="#6a6e78" stroke-width="0.12">N3</text>
<text x="474.7" y="786.6" font-family="'DejaVu Sans', sans-serif" font-size="4.5" font-weight="400" fill="#6a6e78" text-anchor="middle" stroke="#6a6e78" stroke-width="0.12">(n=2)</text>
<text x="387.3" y="796.3" font-family="'DejaVu Sans', sans-serif" font-size="5" font-weight="400" fill="#6a6a6a" text-anchor="middle">TCGA samples</text>
<text x="510.7" y="624" font-family="'DejaVu Sans', sans-serif" font-size="7.35" font-weight="400" fill="#3c3c3c" text-anchor="start" stroke="#3c3c3c" stroke-width="0.18">Expression of FERMT3 in LUAD based on nodal metastasis</text>
<text x="617.4" y="632.6" font-family="'DejaVu Sans', sans-serif" font-size="7.35" font-weight="400" fill="#3c3c3c" text-anchor="middle" stroke="#3c3c3c" stroke-width="0.18">status</text>
<line x1="522" y1="645.8" x2="522" y2="772.8" stroke="#8a8a8a" stroke-width="1.1"/>
<line x1="518" y1="772.8" x2="741.3" y2="772.8" stroke="#8a8a8a" stroke-width="1.1"/>
<line x1="518" y1="645.8" x2="522" y2="645.8" stroke="#8a8a8a" stroke-width="0.9"/>
<text x="515.4" y="647.4" font-family="'DejaVu Sans', sans-serif" font-size="4.4" font-weight="400" fill="#6e6e6e" text-anchor="end">100</text>
<line x1="518" y1="671.3" x2="522" y2="671.3" stroke="#8a8a8a" stroke-width="0.9"/>
<text x="515.4" y="672.9" font-family="'DejaVu Sans', sans-serif" font-size="4.4" font-weight="400" fill="#6e6e6e" text-anchor="end">80</text>
<line x1="518" y1="697" x2="522" y2="697" stroke="#8a8a8a" stroke-width="0.9"/>
<text x="515.4" y="698.6" font-family="'DejaVu Sans', sans-serif" font-size="4.4" font-weight="400" fill="#6e6e6e" text-anchor="end">60</text>
<line x1="518" y1="722.2" x2="522" y2="722.2" stroke="#8a8a8a" stroke-width="0.9"/>
<text x="515.4" y="723.8" font-family="'DejaVu Sans', sans-serif" font-size="4.4" font-weight="400" fill="#6e6e6e" text-anchor="end">40</text>
<line x1="518" y1="747.5" x2="522" y2="747.5" stroke="#8a8a8a" stroke-width="0.9"/>
<text x="515.4" y="749.1" font-family="'DejaVu Sans', sans-serif" font-size="4.4" font-weight="400" fill="#6e6e6e" text-anchor="end">20</text>
<line x1="518" y1="772.8" x2="522" y2="772.8" stroke="#8a8a8a" stroke-width="0.9"/>
<text x="515.4" y="774.4" font-family="'DejaVu Sans', sans-serif" font-size="4.4" font-weight="400" fill="#6e6e6e" text-anchor="end">0</text>
<text x="501" y="709.3" font-family="'DejaVu Sans', sans-serif" font-size="5.2" font-weight="400" fill="#7a7a7a" text-anchor="middle" transform="rotate(-90 501 709.3)">Transcript per million</text>
<line x1="544" y1="674.5" x2="544" y2="708.7" stroke="#c8c8c8" stroke-width="0.85"/>
<line x1="544" y1="674.5" x2="544" y2="708.7" stroke="#777" stroke-width="0.75" stroke-dasharray="1.1,1.0"/>
<line x1="544" y1="730" x2="544" y2="748.7" stroke="#c8c8c8" stroke-width="0.85"/>
<line x1="544" y1="730" x2="544" y2="748.7" stroke="#777" stroke-width="0.75" stroke-dasharray="1.1,1.0"/>
<line x1="538.4" y1="674.5" x2="549.6" y2="674.5" stroke="#8a8a8a" stroke-width="1"/>
<line x1="538.4" y1="748.7" x2="549.6" y2="748.7" stroke="#8a8a8a" stroke-width="1"/>
<rect x="532.9" y="708.7" width="22.2" height="21.3" fill="#546adf"/>
<line x1="532.9" y1="718.7" x2="555.1" y2="718.7" stroke="#26318f" stroke-width="1.35"/>
<line x1="587.7" y1="686.7" x2="587.7" y2="731.2" stroke="#c8c8c8" stroke-width="0.85"/>
<line x1="587.7" y1="686.7" x2="587.7" y2="731.2" stroke="#777" stroke-width="0.75" stroke-dasharray="1.1,1.0"/>
<line x1="587.7" y1="756.7" x2="587.7" y2="771.3" stroke="#c8c8c8" stroke-width="0.85"/>
<line x1="587.7" y1="756.7" x2="587.7" y2="771.3" stroke="#777" stroke-width="0.75" stroke-dasharray="1.1,1.0"/>
<line x1="582.1" y1="686.7" x2="593.3" y2="686.7" stroke="#8a8a8a" stroke-width="1"/>
<line x1="582.1" y1="771.3" x2="593.3" y2="771.3" stroke="#8a8a8a" stroke-width="1"/>
<rect x="576.6" y="731.2" width="22.2" height="25.5" fill="#ee8a22"/>
<line x1="576.6" y1="745.3" x2="598.8" y2="745.3" stroke="#843a0e" stroke-width="1.35"/>
<line x1="631.4" y1="705.3" x2="631.4" y2="736.2" stroke="#c8c8c8" stroke-width="0.85"/>
<line x1="631.4" y1="705.3" x2="631.4" y2="736.2" stroke="#777" stroke-width="0.75" stroke-dasharray="1.1,1.0"/>
<line x1="631.4" y1="756.5" x2="631.4" y2="767.4" stroke="#c8c8c8" stroke-width="0.85"/>
<line x1="631.4" y1="756.5" x2="631.4" y2="767.4" stroke="#777" stroke-width="0.75" stroke-dasharray="1.1,1.0"/>
<line x1="625.8" y1="705.3" x2="637" y2="705.3" stroke="#8a8a8a" stroke-width="1"/>
<line x1="625.8" y1="767.4" x2="637" y2="767.4" stroke="#8a8a8a" stroke-width="1"/>
<rect x="620.3" y="736.2" width="22.2" height="20.3" fill="#b07232"/>
<line x1="620.3" y1="746.2" x2="642.5" y2="746.2" stroke="#5a2c10" stroke-width="1.35"/>
<line x1="675.6" y1="707.5" x2="675.6" y2="739.8" stroke="#c8c8c8" stroke-width="0.85"/>
<line x1="675.6" y1="707.5" x2="675.6" y2="739.8" stroke="#777" stroke-width="0.75" stroke-dasharray="1.1,1.0"/>
<line x1="675.6" y1="759.3" x2="675.6" y2="766.3" stroke="#c8c8c8" stroke-width="0.85"/>
<line x1="675.6" y1="759.3" x2="675.6" y2="766.3" stroke="#777" stroke-width="0.75" stroke-dasharray="1.1,1.0"/>
<line x1="670" y1="707.5" x2="681.2" y2="707.5" stroke="#8a8a8a" stroke-width="1"/>
<line x1="670" y1="766.3" x2="681.2" y2="766.3" stroke="#8a8a8a" stroke-width="1"/>
<rect x="664.5" y="739.8" width="22.2" height="19.5" fill="#b2d518"/>
<line x1="664.5" y1="748.9" x2="686.7" y2="748.9" stroke="#4a5a12" stroke-width="1.35"/>
<line x1="719.9" y1="715.3" x2="719.9" y2="719.5" stroke="#c8c8c8" stroke-width="0.85"/>
<line x1="719.9" y1="715.3" x2="719.9" y2="719.5" stroke="#777" stroke-width="0.75" stroke-dasharray="1.1,1.0"/>
<line x1="719.9" y1="728.6" x2="719.9" y2="732.6" stroke="#c8c8c8" stroke-width="0.85"/>
<line x1="719.9" y1="728.6" x2="719.9" y2="732.6" stroke="#777" stroke-width="0.75" stroke-dasharray="1.1,1.0"/>
<line x1="714.3" y1="715.3" x2="725.5" y2="715.3" stroke="#8a8a8a" stroke-width="1"/>
<line x1="714.3" y1="732.6" x2="725.5" y2="732.6" stroke="#8a8a8a" stroke-width="1"/>
<rect x="708.8" y="719.5" width="22.2" height="9.1" fill="#f0380c"/>
<line x1="708.8" y1="724" x2="731" y2="724" stroke="#8a1e08" stroke-width="1.35"/>
<line x1="544" y1="647.5" x2="587.7" y2="647.5" stroke="#333" stroke-width="1.05"/>
<text transform="translate(566.4 643.2) scale(1 1.12)" x="0" y="5.4" font-family="DejaVu Sans, sans-serif" font-size="9.4" font-weight="700" fill="#5a5a5a" text-anchor="middle" letter-spacing="0.8">***</text>
<line x1="544" y1="655.4" x2="631.8" y2="655.4" stroke="#333" stroke-width="1.05"/>
<text transform="translate(590.9 651.6) scale(1 1.12)" x="0" y="5.4" font-family="DejaVu Sans, sans-serif" font-size="9.4" font-weight="700" fill="#5a5a5a" text-anchor="middle" letter-spacing="0.8">***</text>
<line x1="544" y1="663.2" x2="675.4" y2="663.2" stroke="#333" stroke-width="1.05"/>
<text transform="translate(613.9 659.4) scale(1 1.12)" x="0" y="5.4" font-family="DejaVu Sans, sans-serif" font-size="9.4" font-weight="700" fill="#5a5a5a" text-anchor="middle" letter-spacing="0.8">***</text>
<text x="544" y="780.9" font-family="'DejaVu Sans', sans-serif" font-size="4.5" font-weight="400" fill="#6a6e78" text-anchor="middle" stroke="#6a6e78" stroke-width="0.12">Normal</text>
<text x="544" y="786.6" font-family="'DejaVu Sans', sans-serif" font-size="4.5" font-weight="400" fill="#6a6e78" text-anchor="middle" stroke="#6a6e78" stroke-width="0.12">(n=59)</text>
<text x="587.7" y="780.9" font-family="'DejaVu Sans', sans-serif" font-size="4.5" font-weight="400" fill="#6a6e78" text-anchor="middle" stroke="#6a6e78" stroke-width="0.12">N0</text>
<text x="587.7" y="786.6" font-family="'DejaVu Sans', sans-serif" font-size="4.5" font-weight="400" fill="#6a6e78" text-anchor="middle" stroke="#6a6e78" stroke-width="0.12">(n=331)</text>
<text x="631.4" y="780.9" font-family="'DejaVu Sans', sans-serif" font-size="4.5" font-weight="400" fill="#6a6e78" text-anchor="middle" stroke="#6a6e78" stroke-width="0.12">N1</text>
<text x="631.4" y="786.6" font-family="'DejaVu Sans', sans-serif" font-size="4.5" font-weight="400" fill="#6a6e78" text-anchor="middle" stroke="#6a6e78" stroke-width="0.12">(n=96)</text>
<text x="675.6" y="780.9" font-family="'DejaVu Sans', sans-serif" font-size="4.5" font-weight="400" fill="#6a6e78" text-anchor="middle" stroke="#6a6e78" stroke-width="0.12">N2</text>
<text x="675.6" y="786.6" font-family="'DejaVu Sans', sans-serif" font-size="4.5" font-weight="400" fill="#6a6e78" text-anchor="middle" stroke="#6a6e78" stroke-width="0.12">(n=74)</text>
<text x="719.9" y="780.9" font-family="'DejaVu Sans', sans-serif" font-size="4.5" font-weight="400" fill="#6a6e78" text-anchor="middle" stroke="#6a6e78" stroke-width="0.12">N3</text>
<text x="719.9" y="786.6" font-family="'DejaVu Sans', sans-serif" font-size="4.5" font-weight="400" fill="#6a6e78" text-anchor="middle" stroke="#6a6e78" stroke-width="0.12">(n=2)</text>
<text x="631.8" y="796.3" font-family="'DejaVu Sans', sans-serif" font-size="5" font-weight="400" fill="#6a6a6a" text-anchor="middle">TCGA samples</text>
<text x="16.2" y="815.7" font-family="'DejaVu Sans', sans-serif" font-size="7.35" font-weight="400" fill="#3c3c3c" text-anchor="start" stroke="#3c3c3c" stroke-width="0.18">Expression of FERMT1 in LUSC based on nodal metastasis</text>
<text x="122.9" y="824.3" font-family="'DejaVu Sans', sans-serif" font-size="7.35" font-weight="400" fill="#3c3c3c" text-anchor="middle" stroke="#3c3c3c" stroke-width="0.18">status</text>
<line x1="26.3" y1="837.5" x2="26.3" y2="964.8" stroke="#8a8a8a" stroke-width="1.1"/>
<line x1="22.3" y1="964.8" x2="246" y2="964.8" stroke="#8a8a8a" stroke-width="1.1"/>
<line x1="22.3" y1="837.5" x2="26.3" y2="837.5" stroke="#8a8a8a" stroke-width="0.9"/>
<text x="19.7" y="839.1" font-family="'DejaVu Sans', sans-serif" font-size="4.4" font-weight="400" fill="#6e6e6e" text-anchor="end">125</text>
<line x1="22.3" y1="863.3" x2="26.3" y2="863.3" stroke="#8a8a8a" stroke-width="0.9"/>
<text x="19.7" y="864.9" font-family="'DejaVu Sans', sans-serif" font-size="4.4" font-weight="400" fill="#6e6e6e" text-anchor="end">100</text>
<line x1="22.3" y1="888.8" x2="26.3" y2="888.8" stroke="#8a8a8a" stroke-width="0.9"/>
<text x="19.7" y="890.4" font-family="'DejaVu Sans', sans-serif" font-size="4.4" font-weight="400" fill="#6e6e6e" text-anchor="end">75</text>
<line x1="22.3" y1="914.2" x2="26.3" y2="914.2" stroke="#8a8a8a" stroke-width="0.9"/>
<text x="19.7" y="915.8" font-family="'DejaVu Sans', sans-serif" font-size="4.4" font-weight="400" fill="#6e6e6e" text-anchor="end">50</text>
<line x1="22.3" y1="939.5" x2="26.3" y2="939.5" stroke="#8a8a8a" stroke-width="0.9"/>
<text x="19.7" y="941.1" font-family="'DejaVu Sans', sans-serif" font-size="4.4" font-weight="400" fill="#6e6e6e" text-anchor="end">25</text>
<line x1="22.3" y1="964.8" x2="26.3" y2="964.8" stroke="#8a8a8a" stroke-width="0.9"/>
<text x="19.7" y="966.4" font-family="'DejaVu Sans', sans-serif" font-size="4.4" font-weight="400" fill="#6e6e6e" text-anchor="end">0</text>
<text x="7.2" y="901.15" font-family="'DejaVu Sans', sans-serif" font-size="5.2" font-weight="400" fill="#7a7a7a" text-anchor="middle" transform="rotate(-90 7.2 901.15)">Transcript per million</text>
<line x1="48.1" y1="961.3" x2="48.1" y2="962.8" stroke="#c8c8c8" stroke-width="0.85"/>
<line x1="48.1" y1="961.3" x2="48.1" y2="962.8" stroke="#777" stroke-width="0.75" stroke-dasharray="1.1,1.0"/>
<line x1="48.1" y1="964.5" x2="48.1" y2="964.7" stroke="#c8c8c8" stroke-width="0.85"/>
<line x1="48.1" y1="964.5" x2="48.1" y2="964.7" stroke="#777" stroke-width="0.75" stroke-dasharray="1.1,1.0"/>
<line x1="42.5" y1="961.3" x2="53.7" y2="961.3" stroke="#8a8a8a" stroke-width="1"/>
<line x1="42.5" y1="964.7" x2="53.7" y2="964.7" stroke="#8a8a8a" stroke-width="1"/>
<rect x="37" y="962.8" width="22.2" height="1.7" fill="#546adf"/>
<line x1="37" y1="963.6" x2="59.2" y2="963.6" stroke="#26318f" stroke-width="1.35"/>
<line x1="91.7" y1="874.2" x2="91.7" y2="917.8" stroke="#c8c8c8" stroke-width="0.85"/>
<line x1="91.7" y1="874.2" x2="91.7" y2="917.8" stroke="#777" stroke-width="0.75" stroke-dasharray="1.1,1.0"/>
<line x1="91.7" y1="945.8" x2="91.7" y2="964.5" stroke="#c8c8c8" stroke-width="0.85"/>
<line x1="91.7" y1="945.8" x2="91.7" y2="964.5" stroke="#777" stroke-width="0.75" stroke-dasharray="1.1,1.0"/>
<line x1="86.1" y1="874.2" x2="97.3" y2="874.2" stroke="#8a8a8a" stroke-width="1"/>
<line x1="86.1" y1="964.5" x2="97.3" y2="964.5" stroke="#8a8a8a" stroke-width="1"/>
<rect x="80.6" y="917.8" width="22.2" height="28" fill="#ee8a22"/>
<line x1="80.6" y1="935.5" x2="102.8" y2="935.5" stroke="#843a0e" stroke-width="1.35"/>
<line x1="135.5" y1="867.5" x2="135.5" y2="918.3" stroke="#c8c8c8" stroke-width="0.85"/>
<line x1="135.5" y1="867.5" x2="135.5" y2="918.3" stroke="#777" stroke-width="0.75" stroke-dasharray="1.1,1.0"/>
<line x1="135.5" y1="945.7" x2="135.5" y2="964.9" stroke="#c8c8c8" stroke-width="0.85"/>
<line x1="135.5" y1="945.7" x2="135.5" y2="964.9" stroke="#777" stroke-width="0.75" stroke-dasharray="1.1,1.0"/>
<line x1="129.9" y1="867.5" x2="141.1" y2="867.5" stroke="#8a8a8a" stroke-width="1"/>
<line x1="129.9" y1="964.9" x2="141.1" y2="964.9" stroke="#8a8a8a" stroke-width="1"/>
<rect x="124.4" y="918.3" width="22.2" height="27.4" fill="#b07232"/>
<line x1="124.4" y1="935.1" x2="146.6" y2="935.1" stroke="#5a2c10" stroke-width="1.35"/>
<line x1="179.7" y1="898.6" x2="179.7" y2="931.4" stroke="#c8c8c8" stroke-width="0.85"/>
<line x1="179.7" y1="898.6" x2="179.7" y2="931.4" stroke="#777" stroke-width="0.75" stroke-dasharray="1.1,1.0"/>
<line x1="179.7" y1="952.4" x2="179.7" y2="960.3" stroke="#c8c8c8" stroke-width="0.85"/>
<line x1="179.7" y1="952.4" x2="179.7" y2="960.3" stroke="#777" stroke-width="0.75" stroke-dasharray="1.1,1.0"/>
<line x1="174.1" y1="898.6" x2="185.3" y2="898.6" stroke="#8a8a8a" stroke-width="1"/>
<line x1="174.1" y1="960.3" x2="185.3" y2="960.3" stroke="#8a8a8a" stroke-width="1"/>
<rect x="168.6" y="931.4" width="22.2" height="21" fill="#b2d518"/>
<line x1="168.6" y1="946.4" x2="190.8" y2="946.4" stroke="#4a5a12" stroke-width="1.35"/>
<line x1="224.1" y1="907.3" x2="224.1" y2="925.4" stroke="#c8c8c8" stroke-width="0.85"/>
<line x1="224.1" y1="907.3" x2="224.1" y2="925.4" stroke="#777" stroke-width="0.75" stroke-dasharray="1.1,1.0"/>
<line x1="224.1" y1="950.2" x2="224.1" y2="959.4" stroke="#c8c8c8" stroke-width="0.85"/>
<line x1="224.1" y1="950.2" x2="224.1" y2="959.4" stroke="#777" stroke-width="0.75" stroke-dasharray="1.1,1.0"/>
<line x1="218.5" y1="907.3" x2="229.7" y2="907.3" stroke="#8a8a8a" stroke-width="1"/>
<line x1="218.5" y1="959.4" x2="229.7" y2="959.4" stroke="#8a8a8a" stroke-width="1"/>
<rect x="213" y="925.4" width="22.2" height="24.8" fill="#f0380c"/>
<line x1="213" y1="940.2" x2="235.2" y2="940.2" stroke="#8a1e08" stroke-width="1.35"/>
<line x1="48.3" y1="838.7" x2="91.7" y2="838.7" stroke="#333" stroke-width="1.05"/>
<text transform="translate(70.7 834.4) scale(1 1.12)" x="0" y="5.4" font-family="DejaVu Sans, sans-serif" font-size="9.4" font-weight="700" fill="#5a5a5a" text-anchor="middle" letter-spacing="0.8">***</text>
<line x1="48.3" y1="846.3" x2="136.2" y2="846.3" stroke="#333" stroke-width="1.05"/>
<text transform="translate(95.2 842.5) scale(1 1.12)" x="0" y="5.4" font-family="DejaVu Sans, sans-serif" font-size="9.4" font-weight="700" fill="#5a5a5a" text-anchor="middle" letter-spacing="0.8">***</text>
<line x1="48.3" y1="854.2" x2="179.7" y2="854.2" stroke="#333" stroke-width="1.05"/>
<text transform="translate(118.2 850.4) scale(1 1.12)" x="0" y="5.4" font-family="DejaVu Sans, sans-serif" font-size="9.4" font-weight="700" fill="#5a5a5a" text-anchor="middle" letter-spacing="0.8">***</text>
<line x1="48.3" y1="861.7" x2="225.7" y2="861.7" stroke="#333" stroke-width="1.05"/>
<text transform="translate(149.7 857.9) scale(1 1.12)" x="0" y="5.4" font-family="DejaVu Sans, sans-serif" font-size="9.4" font-weight="700" fill="#5a5a5a" text-anchor="middle" letter-spacing="0.8">***</text>
<text x="48.1" y="972.9" font-family="'DejaVu Sans', sans-serif" font-size="4.5" font-weight="400" fill="#6a6e78" text-anchor="middle" stroke="#6a6e78" stroke-width="0.12">Normal</text>
<text x="48.1" y="978.6" font-family="'DejaVu Sans', sans-serif" font-size="4.5" font-weight="400" fill="#6a6e78" text-anchor="middle" stroke="#6a6e78" stroke-width="0.12">(n=52)</text>
<text x="91.7" y="972.9" font-family="'DejaVu Sans', sans-serif" font-size="4.5" font-weight="400" fill="#6a6e78" text-anchor="middle" stroke="#6a6e78" stroke-width="0.12">N0</text>
<text x="91.7" y="978.6" font-family="'DejaVu Sans', sans-serif" font-size="4.5" font-weight="400" fill="#6a6e78" text-anchor="middle" stroke="#6a6e78" stroke-width="0.12">(n=320)</text>
<text x="135.5" y="972.9" font-family="'DejaVu Sans', sans-serif" font-size="4.5" font-weight="400" fill="#6a6e78" text-anchor="middle" stroke="#6a6e78" stroke-width="0.12">N1</text>
<text x="135.5" y="978.6" font-family="'DejaVu Sans', sans-serif" font-size="4.5" font-weight="400" fill="#6a6e78" text-anchor="middle" stroke="#6a6e78" stroke-width="0.12">(n=131)</text>
<text x="179.7" y="972.9" font-family="'DejaVu Sans', sans-serif" font-size="4.5" font-weight="400" fill="#6a6e78" text-anchor="middle" stroke="#6a6e78" stroke-width="0.12">N2</text>
<text x="179.7" y="978.6" font-family="'DejaVu Sans', sans-serif" font-size="4.5" font-weight="400" fill="#6a6e78" text-anchor="middle" stroke="#6a6e78" stroke-width="0.12">(n=40)</text>
<text x="224.1" y="972.9" font-family="'DejaVu Sans', sans-serif" font-size="4.5" font-weight="400" fill="#6a6e78" text-anchor="middle" stroke="#6a6e78" stroke-width="0.12">N3</text>
<text x="224.1" y="978.6" font-family="'DejaVu Sans', sans-serif" font-size="4.5" font-weight="400" fill="#6a6e78" text-anchor="middle" stroke="#6a6e78" stroke-width="0.12">(n=5)</text>
<text x="135.7" y="988" font-family="'DejaVu Sans', sans-serif" font-size="5" font-weight="400" fill="#6a6a6a" text-anchor="middle">TCGA samples</text>
<text x="266" y="815.7" font-family="'DejaVu Sans', sans-serif" font-size="7.35" font-weight="400" fill="#3c3c3c" text-anchor="start" stroke="#3c3c3c" stroke-width="0.18">Expression of FERMT2 in LUSC based on nodal metastasis</text>
<text x="372.7" y="824.3" font-family="'DejaVu Sans', sans-serif" font-size="7.35" font-weight="400" fill="#3c3c3c" text-anchor="middle" stroke="#3c3c3c" stroke-width="0.18">status</text>
<line x1="275.5" y1="837.8" x2="275.5" y2="964.8" stroke="#8a8a8a" stroke-width="1.1"/>
<line x1="271.5" y1="964.8" x2="491.6" y2="964.8" stroke="#8a8a8a" stroke-width="1.1"/>
<line x1="271.5" y1="837.8" x2="275.5" y2="837.8" stroke="#8a8a8a" stroke-width="0.9"/>
<text x="268.9" y="839.4" font-family="'DejaVu Sans', sans-serif" font-size="4.4" font-weight="400" fill="#6e6e6e" text-anchor="end">125</text>
<line x1="271.5" y1="863.3" x2="275.5" y2="863.3" stroke="#8a8a8a" stroke-width="0.9"/>
<text x="268.9" y="864.9" font-family="'DejaVu Sans', sans-serif" font-size="4.4" font-weight="400" fill="#6e6e6e" text-anchor="end">100</text>
<line x1="271.5" y1="888.8" x2="275.5" y2="888.8" stroke="#8a8a8a" stroke-width="0.9"/>
<text x="268.9" y="890.4" font-family="'DejaVu Sans', sans-serif" font-size="4.4" font-weight="400" fill="#6e6e6e" text-anchor="end">75</text>
<line x1="271.5" y1="914.2" x2="275.5" y2="914.2" stroke="#8a8a8a" stroke-width="0.9"/>
<text x="268.9" y="915.8" font-family="'DejaVu Sans', sans-serif" font-size="4.4" font-weight="400" fill="#6e6e6e" text-anchor="end">50</text>
<line x1="271.5" y1="939.5" x2="275.5" y2="939.5" stroke="#8a8a8a" stroke-width="0.9"/>
<text x="268.9" y="941.1" font-family="'DejaVu Sans', sans-serif" font-size="4.4" font-weight="400" fill="#6e6e6e" text-anchor="end">25</text>
<line x1="271.5" y1="964.8" x2="275.5" y2="964.8" stroke="#8a8a8a" stroke-width="0.9"/>
<text x="268.9" y="966.4" font-family="'DejaVu Sans', sans-serif" font-size="4.4" font-weight="400" fill="#6e6e6e" text-anchor="end">0</text>
<text x="255" y="901.3" font-family="'DejaVu Sans', sans-serif" font-size="5.2" font-weight="400" fill="#7a7a7a" text-anchor="middle" transform="rotate(-90 255 901.3)">Transcript per million</text>
<line x1="298" y1="851.3" x2="298" y2="888" stroke="#c8c8c8" stroke-width="0.85"/>
<line x1="298" y1="851.3" x2="298" y2="888" stroke="#777" stroke-width="0.75" stroke-dasharray="1.1,1.0"/>
<line x1="298" y1="918.3" x2="298" y2="937.8" stroke="#c8c8c8" stroke-width="0.85"/>
<line x1="298" y1="918.3" x2="298" y2="937.8" stroke="#777" stroke-width="0.75" stroke-dasharray="1.1,1.0"/>
<line x1="292.4" y1="851.3" x2="303.6" y2="851.3" stroke="#8a8a8a" stroke-width="1"/>
<line x1="292.4" y1="937.8" x2="303.6" y2="937.8" stroke="#8a8a8a" stroke-width="1"/>
<rect x="286.9" y="888" width="22.2" height="30.3" fill="#546adf"/>
<line x1="286.9" y1="905" x2="309.1" y2="905" stroke="#26318f" stroke-width="1.35"/>
<line x1="342.2" y1="925.8" x2="342.2" y2="945" stroke="#c8c8c8" stroke-width="0.85"/>
<line x1="342.2" y1="925.8" x2="342.2" y2="945" stroke="#777" stroke-width="0.75" stroke-dasharray="1.1,1.0"/>
<line x1="342.2" y1="956.7" x2="342.2" y2="963.7" stroke="#c8c8c8" stroke-width="0.85"/>
<line x1="342.2" y1="956.7" x2="342.2" y2="963.7" stroke="#777" stroke-width="0.75" stroke-dasharray="1.1,1.0"/>
<line x1="336.6" y1="925.8" x2="347.8" y2="925.8" stroke="#8a8a8a" stroke-width="1"/>
<line x1="336.6" y1="963.7" x2="347.8" y2="963.7" stroke="#8a8a8a" stroke-width="1"/>
<rect x="331.1" y="945" width="22.2" height="11.7" fill="#ee8a22"/>
<line x1="331.1" y1="952.2" x2="353.3" y2="952.2" stroke="#843a0e" stroke-width="1.35"/>
<line x1="385.7" y1="918.3" x2="385.7" y2="942" stroke="#c8c8c8" stroke-width="0.85"/>
<line x1="385.7" y1="918.3" x2="385.7" y2="942" stroke="#777" stroke-width="0.75" stroke-dasharray="1.1,1.0"/>
<line x1="385.7" y1="957.6" x2="385.7" y2="963.4" stroke="#c8c8c8" stroke-width="0.85"/>
<line x1="385.7" y1="957.6" x2="385.7" y2="963.4" stroke="#777" stroke-width="0.75" stroke-dasharray="1.1,1.0"/>
<line x1="380.1" y1="918.3" x2="391.3" y2="918.3" stroke="#8a8a8a" stroke-width="1"/>
<line x1="380.1" y1="963.4" x2="391.3" y2="963.4" stroke="#8a8a8a" stroke-width="1"/>
<rect x="374.6" y="942" width="22.2" height="15.6" fill="#b07232"/>
<line x1="374.6" y1="952.1" x2="396.8" y2="952.1" stroke="#5a2c10" stroke-width="1.35"/>
<line x1="429.7" y1="932.9" x2="429.7" y2="946" stroke="#c8c8c8" stroke-width="0.85"/>
<line x1="429.7" y1="932.9" x2="429.7" y2="946" stroke="#777" stroke-width="0.75" stroke-dasharray="1.1,1.0"/>
<line x1="429.7" y1="958.8" x2="429.7" y2="962.1" stroke="#c8c8c8" stroke-width="0.85"/>
<line x1="429.7" y1="958.8" x2="429.7" y2="962.1" stroke="#777" stroke-width="0.75" stroke-dasharray="1.1,1.0"/>
<line x1="424.1" y1="932.9" x2="435.3" y2="932.9" stroke="#8a8a8a" stroke-width="1"/>
<line x1="424.1" y1="962.1" x2="435.3" y2="962.1" stroke="#8a8a8a" stroke-width="1"/>
<rect x="418.6" y="946" width="22.2" height="12.8" fill="#b2d518"/>
<line x1="418.6" y1="951.9" x2="440.8" y2="951.9" stroke="#4a5a12" stroke-width="1.35"/>
<line x1="473.7" y1="944.2" x2="473.7" y2="949.2" stroke="#c8c8c8" stroke-width="0.85"/>
<line x1="473.7" y1="944.2" x2="473.7" y2="949.2" stroke="#777" stroke-width="0.75" stroke-dasharray="1.1,1.0"/>
<line x1="473.7" y1="959.4" x2="473.7" y2="960.3" stroke="#c8c8c8" stroke-width="0.85"/>
<line x1="473.7" y1="959.4" x2="473.7" y2="960.3" stroke="#777" stroke-width="0.75" stroke-dasharray="1.1,1.0"/>
<line x1="468.1" y1="944.2" x2="479.3" y2="944.2" stroke="#8a8a8a" stroke-width="1"/>
<line x1="468.1" y1="960.3" x2="479.3" y2="960.3" stroke="#8a8a8a" stroke-width="1"/>
<rect x="462.6" y="949.2" width="22.2" height="10.2" fill="#f0380c"/>
<line x1="462.6" y1="951.2" x2="484.8" y2="951.2" stroke="#8a1e08" stroke-width="1.35"/>
<line x1="298.8" y1="843.3" x2="342.7" y2="843.3" stroke="#333" stroke-width="1.05"/>
<text transform="translate(321.2 839) scale(1 1.12)" x="0" y="5.4" font-family="DejaVu Sans, sans-serif" font-size="9.4" font-weight="700" fill="#5a5a5a" text-anchor="middle" letter-spacing="0.8">***</text>
<line x1="298.8" y1="851.2" x2="387" y2="851.2" stroke="#333" stroke-width="1.05"/>
<text transform="translate(345.7 847.4) scale(1 1.12)" x="0" y="5.4" font-family="DejaVu Sans, sans-serif" font-size="9.4" font-weight="700" fill="#5a5a5a" text-anchor="middle" letter-spacing="0.8">***</text>
<line x1="298.8" y1="858.9" x2="430.4" y2="858.9" stroke="#333" stroke-width="1.05"/>
<text transform="translate(368.7 855.1) scale(1 1.12)" x="0" y="5.4" font-family="DejaVu Sans, sans-serif" font-size="9.4" font-weight="700" fill="#5a5a5a" text-anchor="middle" letter-spacing="0.8">***</text>
<line x1="298.8" y1="866.6" x2="476.6" y2="866.6" stroke="#333" stroke-width="1.05"/>
<text transform="translate(400.2 862.8) scale(1 1.12)" x="0" y="5.4" font-family="DejaVu Sans, sans-serif" font-size="9.4" font-weight="700" fill="#5a5a5a" text-anchor="middle" letter-spacing="0.8">***</text>
<text x="298" y="972.9" font-family="'DejaVu Sans', sans-serif" font-size="4.5" font-weight="400" fill="#6a6e78" text-anchor="middle" stroke="#6a6e78" stroke-width="0.12">Normal</text>
<text x="298" y="978.6" font-family="'DejaVu Sans', sans-serif" font-size="4.5" font-weight="400" fill="#6a6e78" text-anchor="middle" stroke="#6a6e78" stroke-width="0.12">(n=52)</text>
<text x="342.2" y="972.9" font-family="'DejaVu Sans', sans-serif" font-size="4.5" font-weight="400" fill="#6a6e78" text-anchor="middle" stroke="#6a6e78" stroke-width="0.12">N0</text>
<text x="342.2" y="978.6" font-family="'DejaVu Sans', sans-serif" font-size="4.5" font-weight="400" fill="#6a6e78" text-anchor="middle" stroke="#6a6e78" stroke-width="0.12">(n=320)</text>
<text x="385.7" y="972.9" font-family="'DejaVu Sans', sans-serif" font-size="4.5" font-weight="400" fill="#6a6e78" text-anchor="middle" stroke="#6a6e78" stroke-width="0.12">N1</text>
<text x="385.7" y="978.6" font-family="'DejaVu Sans', sans-serif" font-size="4.5" font-weight="400" fill="#6a6e78" text-anchor="middle" stroke="#6a6e78" stroke-width="0.12">(n=131)</text>
<text x="429.7" y="972.9" font-family="'DejaVu Sans', sans-serif" font-size="4.5" font-weight="400" fill="#6a6e78" text-anchor="middle" stroke="#6a6e78" stroke-width="0.12">N2</text>
<text x="429.7" y="978.6" font-family="'DejaVu Sans', sans-serif" font-size="4.5" font-weight="400" fill="#6a6e78" text-anchor="middle" stroke="#6a6e78" stroke-width="0.12">(n=40)</text>
<text x="473.7" y="972.9" font-family="'DejaVu Sans', sans-serif" font-size="4.5" font-weight="400" fill="#6a6e78" text-anchor="middle" stroke="#6a6e78" stroke-width="0.12">N3</text>
<text x="473.7" y="978.6" font-family="'DejaVu Sans', sans-serif" font-size="4.5" font-weight="400" fill="#6a6e78" text-anchor="middle" stroke="#6a6e78" stroke-width="0.12">(n=5)</text>
<text x="385" y="988" font-family="'DejaVu Sans', sans-serif" font-size="5" font-weight="400" fill="#6a6a6a" text-anchor="middle">TCGA samples</text>
<text x="512.5" y="814.7" font-family="'DejaVu Sans', sans-serif" font-size="7.35" font-weight="400" fill="#3c3c3c" text-anchor="start" stroke="#3c3c3c" stroke-width="0.18">Expression of FERMT3 in LUSC based on nodal metastasis</text>
<text x="619.2" y="823.3" font-family="'DejaVu Sans', sans-serif" font-size="7.35" font-weight="400" fill="#3c3c3c" text-anchor="middle" stroke="#3c3c3c" stroke-width="0.18">status</text>
<line x1="522.8" y1="835.8" x2="522.8" y2="963.2" stroke="#8a8a8a" stroke-width="1.1"/>
<line x1="518.8" y1="963.2" x2="743.3" y2="963.2" stroke="#8a8a8a" stroke-width="1.1"/>
<line x1="518.8" y1="835.8" x2="522.8" y2="835.8" stroke="#8a8a8a" stroke-width="0.9"/>
<text x="516.2" y="837.4" font-family="'DejaVu Sans', sans-serif" font-size="4.4" font-weight="400" fill="#6e6e6e" text-anchor="end">100</text>
<line x1="518.8" y1="861.7" x2="522.8" y2="861.7" stroke="#8a8a8a" stroke-width="0.9"/>
<text x="516.2" y="863.3" font-family="'DejaVu Sans', sans-serif" font-size="4.4" font-weight="400" fill="#6e6e6e" text-anchor="end">80</text>
<line x1="518.8" y1="887" x2="522.8" y2="887" stroke="#8a8a8a" stroke-width="0.9"/>
<text x="516.2" y="888.6" font-family="'DejaVu Sans', sans-serif" font-size="4.4" font-weight="400" fill="#6e6e6e" text-anchor="end">60</text>
<line x1="518.8" y1="912.2" x2="522.8" y2="912.2" stroke="#8a8a8a" stroke-width="0.9"/>
<text x="516.2" y="913.8" font-family="'DejaVu Sans', sans-serif" font-size="4.4" font-weight="400" fill="#6e6e6e" text-anchor="end">40</text>
<line x1="518.8" y1="937.5" x2="522.8" y2="937.5" stroke="#8a8a8a" stroke-width="0.9"/>
<text x="516.2" y="939.1" font-family="'DejaVu Sans', sans-serif" font-size="4.4" font-weight="400" fill="#6e6e6e" text-anchor="end">20</text>
<line x1="518.8" y1="963.2" x2="522.8" y2="963.2" stroke="#8a8a8a" stroke-width="0.9"/>
<text x="516.2" y="964.8" font-family="'DejaVu Sans', sans-serif" font-size="4.4" font-weight="400" fill="#6e6e6e" text-anchor="end">0</text>
<text x="502" y="899.5" font-family="'DejaVu Sans', sans-serif" font-size="5.2" font-weight="400" fill="#7a7a7a" text-anchor="middle" transform="rotate(-90 502 899.5)">Transcript per million</text>
<line x1="545.3" y1="858" x2="545.3" y2="891.3" stroke="#c8c8c8" stroke-width="0.85"/>
<line x1="545.3" y1="858" x2="545.3" y2="891.3" stroke="#777" stroke-width="0.75" stroke-dasharray="1.1,1.0"/>
<line x1="545.3" y1="913.8" x2="545.3" y2="937.5" stroke="#c8c8c8" stroke-width="0.85"/>
<line x1="545.3" y1="913.8" x2="545.3" y2="937.5" stroke="#777" stroke-width="0.75" stroke-dasharray="1.1,1.0"/>
<line x1="539.7" y1="858" x2="550.9" y2="858" stroke="#8a8a8a" stroke-width="1"/>
<line x1="539.7" y1="937.5" x2="550.9" y2="937.5" stroke="#8a8a8a" stroke-width="1"/>
<rect x="534.2" y="891.3" width="22.2" height="22.5" fill="#546adf"/>
<line x1="534.2" y1="900.3" x2="556.4" y2="900.3" stroke="#26318f" stroke-width="1.35"/>
<line x1="589.3" y1="905" x2="589.3" y2="937.5" stroke="#c8c8c8" stroke-width="0.85"/>
<line x1="589.3" y1="905" x2="589.3" y2="937.5" stroke="#777" stroke-width="0.75" stroke-dasharray="1.1,1.0"/>
<line x1="589.3" y1="952.5" x2="589.3" y2="961.3" stroke="#c8c8c8" stroke-width="0.85"/>
<line x1="589.3" y1="952.5" x2="589.3" y2="961.3" stroke="#777" stroke-width="0.75" stroke-dasharray="1.1,1.0"/>
<line x1="583.7" y1="905" x2="594.9" y2="905" stroke="#8a8a8a" stroke-width="1"/>
<line x1="583.7" y1="961.3" x2="594.9" y2="961.3" stroke="#8a8a8a" stroke-width="1"/>
<rect x="578.2" y="937.5" width="22.2" height="15" fill="#ee8a22"/>
<line x1="578.2" y1="946.3" x2="600.4" y2="946.3" stroke="#843a0e" stroke-width="1.35"/>
<line x1="633" y1="903.5" x2="633" y2="935.6" stroke="#c8c8c8" stroke-width="0.85"/>
<line x1="633" y1="903.5" x2="633" y2="935.6" stroke="#777" stroke-width="0.75" stroke-dasharray="1.1,1.0"/>
<line x1="633" y1="953.9" x2="633" y2="961.2" stroke="#c8c8c8" stroke-width="0.85"/>
<line x1="633" y1="953.9" x2="633" y2="961.2" stroke="#777" stroke-width="0.75" stroke-dasharray="1.1,1.0"/>
<line x1="627.4" y1="903.5" x2="638.6" y2="903.5" stroke="#8a8a8a" stroke-width="1"/>
<line x1="627.4" y1="961.2" x2="638.6" y2="961.2" stroke="#8a8a8a" stroke-width="1"/>
<rect x="621.9" y="935.6" width="22.2" height="18.3" fill="#b07232"/>
<line x1="621.9" y1="946" x2="644.1" y2="946" stroke="#5a2c10" stroke-width="1.35"/>
<line x1="677" y1="908.6" x2="677" y2="935.6" stroke="#c8c8c8" stroke-width="0.85"/>
<line x1="677" y1="908.6" x2="677" y2="935.6" stroke="#777" stroke-width="0.75" stroke-dasharray="1.1,1.0"/>
<line x1="677" y1="954.6" x2="677" y2="960.3" stroke="#c8c8c8" stroke-width="0.85"/>
<line x1="677" y1="954.6" x2="677" y2="960.3" stroke="#777" stroke-width="0.75" stroke-dasharray="1.1,1.0"/>
<line x1="671.4" y1="908.6" x2="682.6" y2="908.6" stroke="#8a8a8a" stroke-width="1"/>
<line x1="671.4" y1="960.3" x2="682.6" y2="960.3" stroke="#8a8a8a" stroke-width="1"/>
<rect x="665.9" y="935.6" width="22.2" height="19" fill="#b2d518"/>
<line x1="665.9" y1="946.6" x2="688.1" y2="946.6" stroke="#4a5a12" stroke-width="1.35"/>
<line x1="721.4" y1="906.2" x2="721.4" y2="926" stroke="#c8c8c8" stroke-width="0.85"/>
<line x1="721.4" y1="906.2" x2="721.4" y2="926" stroke="#777" stroke-width="0.75" stroke-dasharray="1.1,1.0"/>
<line x1="721.4" y1="948.8" x2="721.4" y2="951.2" stroke="#c8c8c8" stroke-width="0.85"/>
<line x1="721.4" y1="948.8" x2="721.4" y2="951.2" stroke="#777" stroke-width="0.75" stroke-dasharray="1.1,1.0"/>
<line x1="715.8" y1="906.2" x2="727" y2="906.2" stroke="#8a8a8a" stroke-width="1"/>
<line x1="715.8" y1="951.2" x2="727" y2="951.2" stroke="#8a8a8a" stroke-width="1"/>
<rect x="710.3" y="926" width="22.2" height="22.8" fill="#f0380c"/>
<line x1="710.3" y1="946" x2="732.5" y2="946" stroke="#8a1e08" stroke-width="1.35"/>
<line x1="545.5" y1="843.3" x2="589.7" y2="843.3" stroke="#333" stroke-width="1.05"/>
<text transform="translate(567.9 839) scale(1 1.12)" x="0" y="5.4" font-family="DejaVu Sans, sans-serif" font-size="9.4" font-weight="700" fill="#5a5a5a" text-anchor="middle" letter-spacing="0.8">***</text>
<line x1="545.5" y1="851.1" x2="633.7" y2="851.1" stroke="#333" stroke-width="1.05"/>
<text transform="translate(592.4 847.3) scale(1 1.12)" x="0" y="5.4" font-family="DejaVu Sans, sans-serif" font-size="9.4" font-weight="700" fill="#5a5a5a" text-anchor="middle" letter-spacing="0.8">***</text>
<line x1="545.5" y1="858.9" x2="677.5" y2="858.9" stroke="#333" stroke-width="1.05"/>
<text transform="translate(615.4 855.1) scale(1 1.12)" x="0" y="5.4" font-family="DejaVu Sans, sans-serif" font-size="9.4" font-weight="700" fill="#5a5a5a" text-anchor="middle" letter-spacing="0.8">***</text>
<line x1="545.5" y1="866.6" x2="723.7" y2="866.6" stroke="#333" stroke-width="1.05"/>
<text transform="translate(646.9 862.8) scale(1 1.12)" x="0" y="5.4" font-family="DejaVu Sans, sans-serif" font-size="9.4" font-weight="700" fill="#5a5a5a" text-anchor="middle" letter-spacing="0.8">***</text>
<text x="545.3" y="971.9" font-family="'DejaVu Sans', sans-serif" font-size="4.5" font-weight="400" fill="#6a6e78" text-anchor="middle" stroke="#6a6e78" stroke-width="0.12">Normal</text>
<text x="545.3" y="977.6" font-family="'DejaVu Sans', sans-serif" font-size="4.5" font-weight="400" fill="#6a6e78" text-anchor="middle" stroke="#6a6e78" stroke-width="0.12">(n=52)</text>
<text x="589.3" y="971.9" font-family="'DejaVu Sans', sans-serif" font-size="4.5" font-weight="400" fill="#6a6e78" text-anchor="middle" stroke="#6a6e78" stroke-width="0.12">N0</text>
<text x="589.3" y="977.6" font-family="'DejaVu Sans', sans-serif" font-size="4.5" font-weight="400" fill="#6a6e78" text-anchor="middle" stroke="#6a6e78" stroke-width="0.12">(n=320)</text>
<text x="633" y="971.9" font-family="'DejaVu Sans', sans-serif" font-size="4.5" font-weight="400" fill="#6a6e78" text-anchor="middle" stroke="#6a6e78" stroke-width="0.12">N1</text>
<text x="633" y="977.6" font-family="'DejaVu Sans', sans-serif" font-size="4.5" font-weight="400" fill="#6a6e78" text-anchor="middle" stroke="#6a6e78" stroke-width="0.12">(n=131)</text>
<text x="677" y="971.9" font-family="'DejaVu Sans', sans-serif" font-size="4.5" font-weight="400" fill="#6a6e78" text-anchor="middle" stroke="#6a6e78" stroke-width="0.12">N2</text>
<text x="677" y="977.6" font-family="'DejaVu Sans', sans-serif" font-size="4.5" font-weight="400" fill="#6a6e78" text-anchor="middle" stroke="#6a6e78" stroke-width="0.12">(n=40)</text>
<text x="721.4" y="971.9" font-family="'DejaVu Sans', sans-serif" font-size="4.5" font-weight="400" fill="#6a6e78" text-anchor="middle" stroke="#6a6e78" stroke-width="0.12">N3</text>
<text x="721.4" y="977.6" font-family="'DejaVu Sans', sans-serif" font-size="4.5" font-weight="400" fill="#6a6e78" text-anchor="middle" stroke="#6a6e78" stroke-width="0.12">(n=5)</text>
<text x="632.8" y="987" font-family="'DejaVu Sans', sans-serif" font-size="5" font-weight="400" fill="#6a6a6a" text-anchor="middle">TCGA samples</text>
</svg>
</body></html>
